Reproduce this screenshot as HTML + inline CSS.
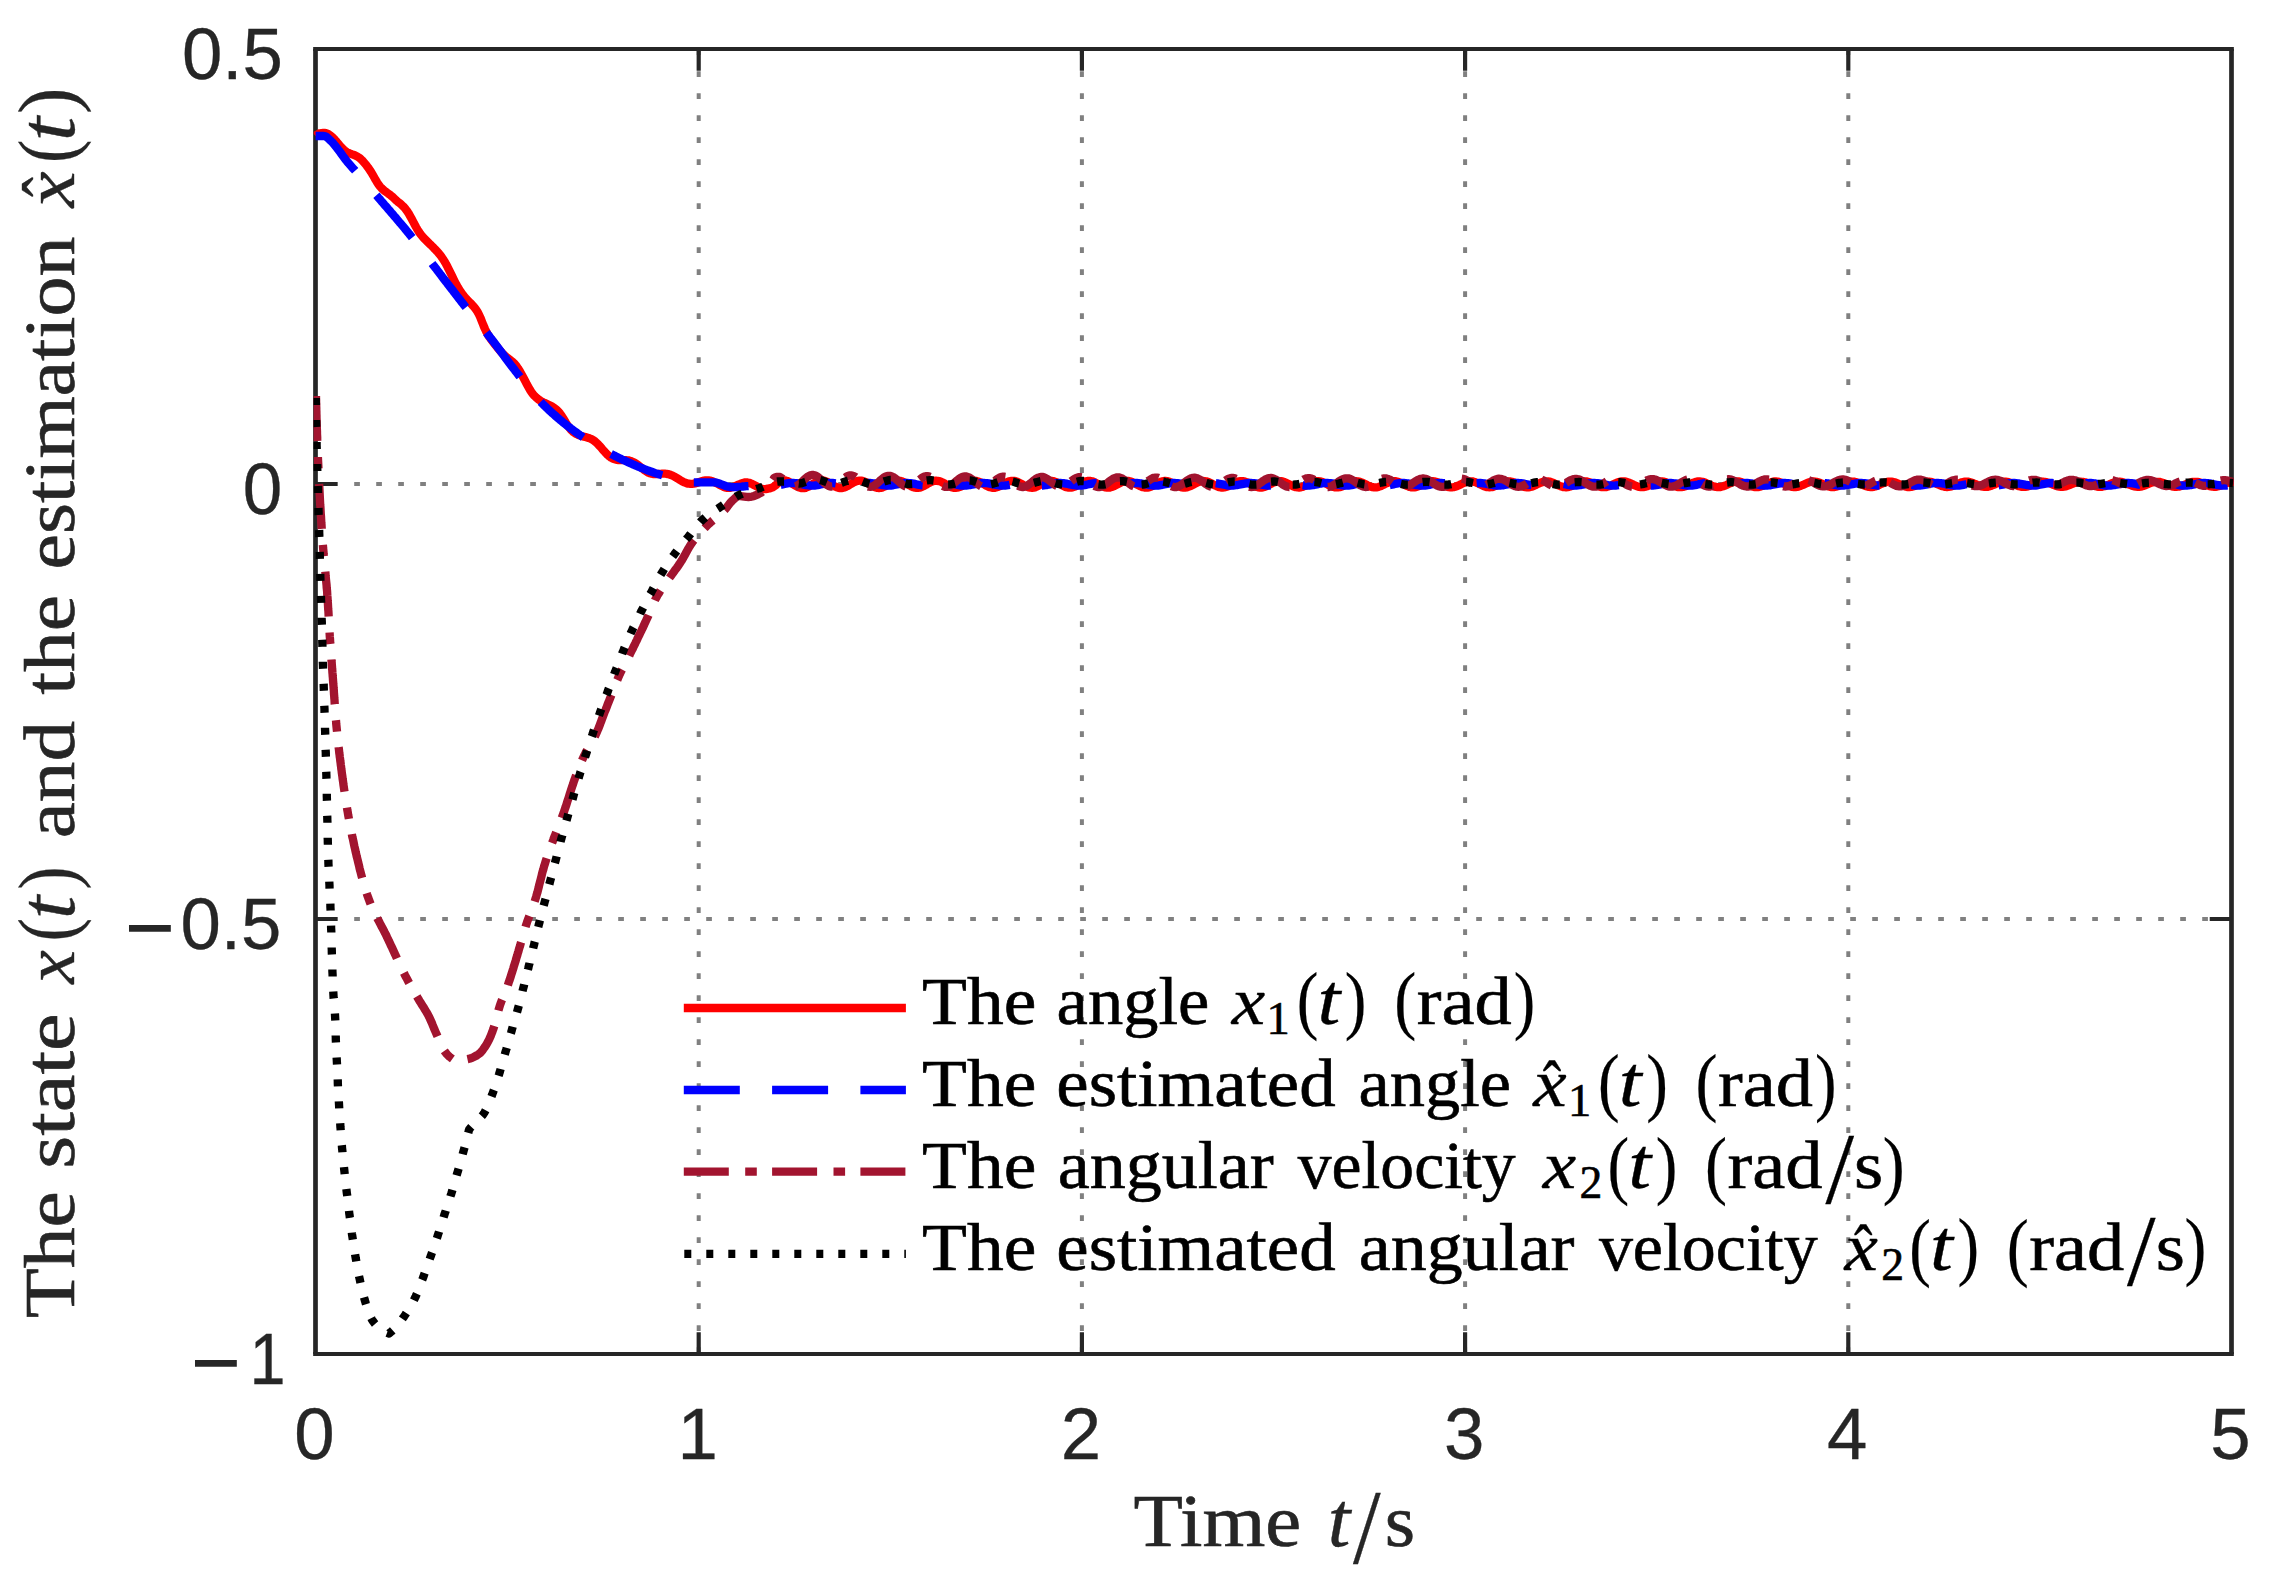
<!DOCTYPE html><html><head><meta charset="utf-8"><title>State and estimation</title><style>html,body{margin:0;padding:0;background:#fff}svg{display:block}</style></head><body>
<svg width="2269" height="1580" viewBox="0 0 2269 1580">
<rect width="2269" height="1580" fill="#fff"/>
<defs><clipPath id="c"><rect x="313.6" y="44" width="1920.2000000000003" height="1314"/></clipPath></defs>
<g stroke="#808080" stroke-width="4" fill="none" stroke-dasharray="5.7 16.3">
<path d="M698.7 49.2V1354.0"/>
<path d="M1081.9 49.2V1354.0"/>
<path d="M1465.1 49.2V1354.0"/>
<path d="M1848.3 49.2V1354.0"/>
<path d="M332.2 484H2231.5"/>
<path d="M332.2 919H2231.5"/>
</g>
<g stroke="#262626" stroke-width="4.17" fill="none">
<path stroke-width="4.0" d="M313.15 49.0H2233.85M313.15 1354.0H2233.85"/>
<path stroke-width="4.7" d="M315.5 49.0V1354.0M2231.5 49.0V1354.0"/>
<path d="M698.7 1354.0v-21.8M698.7 49.0v21.8M1081.9 1354.0v-21.8M1081.9 49.0v21.8M1465.1 1354.0v-21.8M1465.1 49.0v21.8M1848.3 1354.0v-21.8M1848.3 49.0v21.8M315.5 484h21.8M2231.5 484h-21.8M315.5 919h21.8M2231.5 919h-21.8"/>
</g>
<g clip-path="url(#c)" fill="none" stroke-width="8.33" stroke-linejoin="round">
<path stroke="#ff0000" d="M315.5 136.0L317.0 134.6L318.5 133.8L320.0 133.3L321.5 133.1L323.0 133.0L324.5 133.0L326.0 133.2L327.5 133.7L329.0 134.5L330.5 135.6L332.0 136.9L333.5 138.3L335.0 139.9L336.5 141.6L338.0 143.4L339.5 145.2L341.0 146.9L342.5 148.5L344.0 150.0L345.5 151.2L347.0 152.2L348.5 152.9L350.0 153.5L351.5 154.1L353.0 154.6L354.5 155.2L356.0 155.8L357.5 156.6L359.0 157.6L360.5 158.8L362.0 160.2L363.5 161.8L365.0 163.6L366.5 165.4L368.0 167.4L369.5 169.6L371.0 171.9L372.5 174.4L374.0 177.0L375.5 179.7L377.0 182.2L378.5 184.5L380.0 186.5L381.5 188.1L383.0 189.5L384.5 190.8L386.0 191.9L387.5 193.0L389.0 194.1L390.5 195.2L392.0 196.4L393.5 197.8L395.0 199.2L396.5 200.6L398.0 201.9L399.5 203.1L401.0 204.3L402.5 205.7L404.0 207.1L405.5 208.9L407.0 210.9L408.5 213.2L410.0 215.8L411.5 218.5L413.0 221.4L414.5 224.2L416.0 227.0L417.5 229.6L419.0 232.0L420.5 234.1L422.0 236.0L423.5 237.7L425.0 239.2L426.5 240.7L428.0 242.2L429.5 243.7L431.0 245.1L432.5 246.6L434.0 248.2L435.5 249.7L437.0 251.3L438.5 253.0L440.0 254.8L441.5 256.8L443.0 259.0L444.5 261.4L446.0 264.0L447.5 266.8L449.0 269.8L450.5 272.8L452.0 275.9L453.5 279.0L455.0 282.0L456.5 284.9L458.0 287.5L459.5 289.9L461.0 292.2L462.5 294.3L464.0 296.2L465.5 297.9L467.0 299.6L468.5 301.1L470.0 302.6L471.5 304.2L473.0 305.8L474.5 307.5L476.0 309.5L477.5 311.8L479.0 314.6L480.5 317.9L482.0 321.7L483.5 325.5L485.0 329.0L486.5 332.1L488.0 334.8L489.5 337.2L491.0 339.3L492.5 341.3L494.0 343.3L495.5 345.1L497.0 347.0L498.5 348.8L500.0 350.6L501.5 352.4L503.0 354.0L504.5 355.4L506.0 356.7L507.5 357.9L509.0 359.0L510.5 360.2L512.0 361.4L513.5 362.8L515.0 364.3L516.5 366.2L518.0 368.3L519.5 370.7L521.0 373.3L522.5 376.0L524.0 378.8L525.5 381.7L527.0 384.6L528.5 387.3L530.0 389.9L531.5 392.2L533.0 394.2L534.5 395.9L536.0 397.4L537.5 398.7L539.0 399.8L540.5 400.8L542.0 401.6L543.5 402.4L545.0 403.1L546.5 403.8L548.0 404.5L549.5 405.2L551.0 406.0L552.5 406.8L554.0 407.7L555.5 408.9L557.0 410.2L558.5 411.7L560.0 413.5L561.5 415.7L563.0 418.0L564.5 420.5L566.0 423.0L567.5 425.3L569.0 427.4L570.5 429.2L572.0 430.7L573.5 432.1L575.0 433.2L576.5 434.1L578.0 434.8L579.5 435.4L581.0 435.9L582.5 436.3L584.0 436.7L585.5 437.1L587.0 437.5L588.5 437.9L590.0 438.5L591.5 439.1L593.0 440.0L594.5 441.0L596.0 442.3L597.5 443.7L599.0 445.3L600.5 446.9L602.0 448.7L603.5 450.4L605.0 452.1L606.5 453.7L608.0 455.2L609.5 456.5L611.0 457.6L612.5 458.4L614.0 459.1L615.5 459.5L617.0 459.8L618.5 460.0L620.0 460.1L621.5 460.1L623.0 460.1L624.5 460.1L626.0 460.2L627.5 460.3L629.0 460.5L630.5 460.9L632.0 461.5L633.5 462.2L635.0 463.0L636.5 464.0L638.0 465.0L639.5 466.2L641.0 467.4L642.5 468.6L644.0 469.8L645.5 470.9L647.0 471.9L648.5 472.7L650.0 473.3L651.5 473.7L653.0 474.0L654.5 474.1L656.0 474.1L657.5 474.0L659.0 473.9L660.5 473.8L662.0 473.7L663.5 473.7L665.0 473.7L666.5 473.8L668.0 474.1L669.5 474.5L671.0 475.0L672.5 475.6L674.0 476.4L675.5 477.2L677.0 478.1L678.5 479.0L680.0 480.0L681.5 480.9L683.0 481.7L684.5 482.4L686.0 483.0L687.5 483.5L689.0 483.7L690.5 483.9L692.0 483.9L693.5 483.7L695.0 483.4L696.5 483.0L698.0 482.5L699.5 482.0L701.0 481.5L702.5 481.0L704.0 480.6L705.5 480.4L707.0 480.3L708.5 480.4L710.0 480.6L711.5 481.0L713.0 481.5L714.5 482.2L716.0 482.9L717.5 483.6L719.0 484.5L720.5 485.3L722.0 486.1L723.5 486.8L725.0 487.4L726.5 487.8L728.0 487.9L729.5 487.9L731.0 487.6L732.5 487.2L734.0 486.7L735.5 486.0L737.0 485.3L738.5 484.6L740.0 484.0L741.5 483.4L743.0 482.9L744.5 482.5L746.0 482.4L747.5 482.5L749.0 482.8L750.5 483.3L752.0 483.9L753.5 484.7L755.0 485.5L756.5 486.3L758.0 487.1L759.5 487.9L761.0 488.5L762.5 489.0L764.0 489.2L765.5 489.2L767.0 488.9L768.0 488.6L769.5 488.4L771.0 488.0L772.5 487.4L774.0 486.5L775.5 485.4L777.0 484.0L778.5 482.6L780.0 481.1L781.5 480.6L783.0 480.4L784.5 480.4L786.0 480.7L787.5 481.1L789.0 481.8L790.5 482.6L792.0 483.5L793.5 484.5L795.0 485.4L796.5 486.3L798.0 487.0L799.5 487.6L801.0 488.0L802.5 488.1L804.0 488.1L805.5 487.8L807.0 487.2L808.5 486.6L810.0 485.7L811.5 484.8L813.0 483.9L814.5 483.0L816.0 482.1L817.5 481.4L819.0 480.9L820.5 480.6L822.0 480.5L823.5 480.6L825.0 481.0L826.5 481.6L828.0 482.3L829.5 483.1L831.0 484.1L832.5 485.0L834.0 485.9L835.5 486.7L837.0 487.3L838.5 487.8L840.0 488.0L841.5 488.0L843.0 487.8L844.5 487.4L846.0 486.8L847.5 486.1L849.0 485.2L850.5 484.3L852.0 483.4L853.5 482.5L855.0 481.8L856.5 481.2L858.0 480.8L859.5 480.6L861.0 480.6L862.5 480.9L864.0 481.4L865.5 482.0L867.0 482.8L868.5 483.7L870.0 484.6L871.5 485.5L873.0 486.3L874.5 487.0L876.0 487.5L877.5 487.9L879.0 488.0L880.5 487.9L882.0 487.6L883.5 487.0L885.0 486.4L886.5 485.6L888.0 484.7L889.5 483.8L891.0 482.9L892.5 482.1L894.0 481.5L895.5 481.0L897.0 480.7L898.5 480.7L900.0 480.8L901.5 481.2L903.0 481.8L904.5 482.5L906.0 483.3L907.5 484.2L909.0 485.1L910.5 485.9L912.0 486.7L913.5 487.3L915.0 487.7L916.5 487.9L918.0 487.9L919.5 487.7L921.0 487.2L922.5 486.6L924.0 485.9L925.5 485.0L927.0 484.2L928.5 483.3L930.0 482.5L931.5 481.8L933.0 481.2L934.5 480.9L936.0 480.7L937.5 480.8L939.0 481.1L940.5 481.5L942.0 482.2L943.5 483.0L945.0 483.8L946.5 484.7L948.0 485.5L949.5 486.3L951.0 487.0L952.5 487.5L954.0 487.8L955.5 487.9L957.0 487.7L958.5 487.4L960.0 486.9L961.5 486.2L963.0 485.4L964.5 484.5L966.0 483.7L967.5 482.8L969.0 482.1L970.5 481.5L972.0 481.0L973.5 480.8L975.0 480.8L976.5 481.0L978.0 481.4L979.5 481.9L981.0 482.6L982.5 483.4L984.0 484.3L985.5 485.2L987.0 486.0L988.5 486.7L990.0 487.2L991.5 487.6L993.0 487.8L994.5 487.8L996.0 487.5L997.5 487.1L999.0 486.5L1000.5 485.7L1002.0 484.9L1003.5 484.0L1005.0 483.2L1006.5 482.4L1008.0 481.8L1009.5 481.3L1011.0 480.9L1012.5 480.8L1014.0 480.9L1015.5 481.2L1017.0 481.7L1018.5 482.3L1020.0 483.1L1021.5 483.9L1023.0 484.8L1024.5 485.6L1026.0 486.4L1027.5 487.0L1029.0 487.4L1030.5 487.7L1032.0 487.8L1033.5 487.6L1035.0 487.3L1036.5 486.7L1038.0 486.0L1039.5 485.3L1041.0 484.4L1042.5 483.6L1044.0 482.8L1045.5 482.1L1047.0 481.5L1048.5 481.1L1050.0 480.9L1051.5 480.9L1053.0 481.1L1054.5 481.5L1056.0 482.1L1057.5 482.8L1059.0 483.6L1060.5 484.4L1062.0 485.3L1063.5 486.0L1065.0 486.7L1066.5 487.2L1068.0 487.6L1069.5 487.7L1071.0 487.7L1072.5 487.4L1074.0 486.9L1075.5 486.3L1077.0 485.6L1078.5 484.8L1080.0 483.9L1081.5 483.1L1083.0 482.4L1084.5 481.8L1086.0 481.3L1087.5 481.0L1089.0 480.9L1090.5 481.0L1092.0 481.3L1093.5 481.8L1095.0 482.5L1096.5 483.2L1098.0 484.1L1099.5 484.9L1101.0 485.7L1102.5 486.4L1104.0 487.0L1105.5 487.4L1107.0 487.6L1108.5 487.7L1110.0 487.5L1111.5 487.1L1113.0 486.6L1114.5 485.9L1116.0 485.1L1117.5 484.3L1119.0 483.5L1120.5 482.7L1122.0 482.0L1123.5 481.5L1125.0 481.1L1126.5 481.0L1128.0 481.0L1129.5 481.2L1131.0 481.6L1132.5 482.2L1134.0 482.9L1135.5 483.7L1137.0 484.5L1138.5 485.3L1140.0 486.1L1141.5 486.7L1143.0 487.2L1144.5 487.5L1146.0 487.6L1147.5 487.5L1149.0 487.3L1150.5 486.8L1152.0 486.2L1153.5 485.5L1155.0 484.7L1156.5 483.8L1158.0 483.1L1159.5 482.3L1161.0 481.7L1162.5 481.3L1164.0 481.0L1165.5 481.0L1167.0 481.1L1168.5 481.5L1170.0 482.0L1171.5 482.6L1173.0 483.4L1174.5 484.2L1176.0 485.0L1177.5 485.8L1179.0 486.4L1180.5 487.0L1182.0 487.4L1183.5 487.6L1185.0 487.6L1186.5 487.4L1188.0 487.0L1189.5 486.4L1191.0 485.8L1192.5 485.0L1194.0 484.2L1195.5 483.4L1197.0 482.7L1198.5 482.0L1200.0 481.5L1201.5 481.2L1203.0 481.0L1204.5 481.1L1206.0 481.3L1207.5 481.8L1209.0 482.3L1210.5 483.0L1212.0 483.8L1213.5 484.6L1215.0 485.4L1216.5 486.1L1218.0 486.7L1219.5 487.2L1221.0 487.5L1222.5 487.6L1224.0 487.4L1225.5 487.1L1227.0 486.7L1228.5 486.1L1230.0 485.3L1231.5 484.5L1233.0 483.7L1234.5 483.0L1236.0 482.3L1237.5 481.7L1239.0 481.3L1240.5 481.1L1242.0 481.1L1243.5 481.2L1245.0 481.6L1246.5 482.1L1248.0 482.7L1249.5 483.5L1251.0 484.3L1252.5 485.1L1254.0 485.8L1255.5 486.5L1257.0 487.0L1258.5 487.3L1260.0 487.5L1261.5 487.5L1263.0 487.3L1264.5 486.9L1266.0 486.3L1267.5 485.6L1269.0 484.9L1270.5 484.1L1272.0 483.3L1273.5 482.6L1275.0 482.0L1276.5 481.5L1278.0 481.2L1279.5 481.1L1281.0 481.2L1282.5 481.4L1284.0 481.9L1285.5 482.5L1287.0 483.2L1288.5 483.9L1290.0 484.7L1291.5 485.5L1293.0 486.2L1294.5 486.7L1296.0 487.2L1297.5 487.4L1299.0 487.5L1300.5 487.3L1302.0 487.0L1303.5 486.5L1305.0 485.9L1306.5 485.2L1308.0 484.4L1309.5 483.7L1311.0 482.9L1312.5 482.3L1314.0 481.7L1315.5 481.4L1317.0 481.2L1318.5 481.2L1320.0 481.3L1321.5 481.7L1323.0 482.2L1324.5 482.9L1326.0 483.6L1327.5 484.4L1329.0 485.2L1330.5 485.9L1332.0 486.5L1333.5 487.0L1335.0 487.3L1336.5 487.4L1338.0 487.4L1339.5 487.2L1341.0 486.7L1342.5 486.2L1344.0 485.5L1345.5 484.8L1347.0 484.0L1348.5 483.2L1350.0 482.6L1351.5 482.0L1353.0 481.5L1354.5 481.3L1356.0 481.2L1357.5 481.3L1359.0 481.6L1360.5 482.0L1362.0 482.6L1363.5 483.3L1365.0 484.0L1366.5 484.8L1368.0 485.6L1369.5 486.2L1371.0 486.8L1372.5 487.2L1374.0 487.4L1375.5 487.4L1377.0 487.3L1378.5 486.9L1380.0 486.4L1381.5 485.8L1383.0 485.1L1384.5 484.3L1386.0 483.6L1387.5 482.9L1389.0 482.2L1390.5 481.7L1392.0 481.4L1393.5 481.2L1395.0 481.2L1396.5 481.4L1398.0 481.8L1399.5 482.4L1401.0 483.0L1402.5 483.7L1404.0 484.5L1405.5 485.2L1407.0 485.9L1408.5 486.5L1410.0 487.0L1411.5 487.3L1413.0 487.4L1414.5 487.3L1416.0 487.1L1417.5 486.6L1419.0 486.1L1420.5 485.4L1422.0 484.7L1423.5 483.9L1425.0 483.2L1426.5 482.5L1428.0 482.0L1429.5 481.5L1431.0 481.3L1432.5 481.2L1434.0 481.4L1435.5 481.7L1437.0 482.1L1438.5 482.7L1440.0 483.4L1441.5 484.2L1443.0 484.9L1444.5 485.6L1446.0 486.3L1447.5 486.8L1449.0 487.1L1450.5 487.3L1452.0 487.3L1453.5 487.2L1455.0 486.8L1456.5 486.3L1458.0 485.7L1459.5 485.0L1461.0 484.2L1462.5 483.5L1464.0 482.8L1465.5 482.2L1467.0 481.7L1468.5 481.4L1470.0 481.3L1471.5 481.3L1473.0 481.5L1474.5 481.9L1476.0 482.5L1477.5 483.1L1479.0 483.8L1480.5 484.6L1482.0 485.3L1483.5 486.0L1485.0 486.5L1486.5 487.0L1488.0 487.2L1489.5 487.3L1491.0 487.2L1492.5 487.0L1494.0 486.5L1495.5 485.9L1497.0 485.3L1498.5 484.6L1500.0 483.8L1501.5 483.1L1503.0 482.5L1504.5 481.9L1506.0 481.6L1507.5 481.3L1509.0 481.3L1510.5 481.5L1512.0 481.8L1513.5 482.2L1515.0 482.8L1516.5 483.5L1518.0 484.3L1519.5 485.0L1521.0 485.7L1522.5 486.3L1524.0 486.8L1525.5 487.1L1527.0 487.3L1528.5 487.3L1530.0 487.1L1531.5 486.7L1533.0 486.2L1534.5 485.6L1536.0 484.9L1537.5 484.1L1539.0 483.4L1540.5 482.7L1542.0 482.2L1543.5 481.7L1545.0 481.4L1546.5 481.3L1548.0 481.4L1549.5 481.6L1551.0 482.0L1552.5 482.6L1554.0 483.2L1555.5 483.9L1557.0 484.7L1558.5 485.4L1560.0 486.0L1561.5 486.6L1563.0 487.0L1564.5 487.2L1566.0 487.3L1567.5 487.1L1569.0 486.8L1570.5 486.4L1572.0 485.8L1573.5 485.2L1575.0 484.5L1576.5 483.7L1578.0 483.0L1579.5 482.4L1581.0 481.9L1582.5 481.6L1584.0 481.4L1585.5 481.4L1587.0 481.5L1588.5 481.9L1590.0 482.4L1591.5 483.0L1593.0 483.6L1594.5 484.4L1596.0 485.1L1597.5 485.7L1599.0 486.3L1600.5 486.8L1602.0 487.1L1603.5 487.2L1605.0 487.2L1606.5 487.0L1608.0 486.6L1609.5 486.1L1611.0 485.5L1612.5 484.8L1614.0 484.0L1615.5 483.3L1617.0 482.7L1618.5 482.1L1620.0 481.7L1621.5 481.5L1623.0 481.4L1624.5 481.5L1626.0 481.7L1627.5 482.2L1629.0 482.7L1630.5 483.3L1632.0 484.0L1633.5 484.8L1635.0 485.4L1636.5 486.1L1638.0 486.6L1639.5 486.9L1641.0 487.2L1642.5 487.2L1644.0 487.1L1645.5 486.7L1647.0 486.3L1648.5 485.7L1650.0 485.1L1651.5 484.4L1653.0 483.6L1654.5 483.0L1656.0 482.4L1657.5 481.9L1659.0 481.6L1660.5 481.4L1662.0 481.4L1663.5 481.6L1665.0 482.0L1666.5 482.5L1668.0 483.1L1669.5 483.7L1671.0 484.4L1672.5 485.1L1674.0 485.8L1675.5 486.3L1677.0 486.8L1678.5 487.1L1680.0 487.2L1681.5 487.1L1683.0 486.9L1684.5 486.5L1686.0 486.0L1687.5 485.3L1689.0 484.7L1690.5 484.0L1692.0 483.3L1693.5 482.6L1695.0 482.1L1696.5 481.7L1698.0 481.5L1699.5 481.4L1701.0 481.6L1702.5 481.8L1704.0 482.3L1705.5 482.8L1707.0 483.5L1708.5 484.1L1710.0 484.8L1711.5 485.5L1713.0 486.1L1714.5 486.6L1716.0 486.9L1717.5 487.1L1719.0 487.1L1720.5 487.0L1722.0 486.6L1723.5 486.2L1725.0 485.6L1726.5 485.0L1728.0 484.3L1729.5 483.6L1731.0 482.9L1732.5 482.4L1734.0 481.9L1735.5 481.6L1737.0 481.5L1738.5 481.5L1740.0 481.7L1741.5 482.1L1743.0 482.6L1744.5 483.2L1746.0 483.8L1747.5 484.5L1749.0 485.2L1750.5 485.8L1752.0 486.4L1753.5 486.8L1755.0 487.0L1756.5 487.1L1758.0 487.0L1759.5 486.8L1761.0 486.4L1762.5 485.9L1764.0 485.2L1765.5 484.6L1767.0 483.9L1768.5 483.2L1770.0 482.6L1771.5 482.1L1773.0 481.7L1774.5 481.5L1776.0 481.5L1777.5 481.6L1779.0 481.9L1780.5 482.4L1782.0 482.9L1783.5 483.6L1785.0 484.2L1786.5 484.9L1788.0 485.6L1789.5 486.1L1791.0 486.6L1792.5 486.9L1794.0 487.1L1795.5 487.1L1797.0 486.9L1798.5 486.6L1800.0 486.1L1801.5 485.5L1803.0 484.9L1804.5 484.2L1806.0 483.5L1807.5 482.9L1809.0 482.3L1810.5 481.9L1812.0 481.6L1813.5 481.5L1815.0 481.6L1816.5 481.8L1818.0 482.2L1819.5 482.7L1821.0 483.3L1822.5 483.9L1824.0 484.6L1825.5 485.3L1827.0 485.9L1828.5 486.4L1830.0 486.8L1831.5 487.0L1833.0 487.1L1834.5 487.0L1836.0 486.7L1837.5 486.3L1839.0 485.7L1840.5 485.1L1842.0 484.5L1843.5 483.8L1845.0 483.1L1846.5 482.6L1848.0 482.1L1849.5 481.8L1851.0 481.6L1852.5 481.6L1854.0 481.7L1855.5 482.0L1857.0 482.5L1858.5 483.0L1860.0 483.7L1861.5 484.3L1863.0 485.0L1864.5 485.6L1866.0 486.2L1867.5 486.6L1869.0 486.9L1870.5 487.0L1872.0 487.0L1873.5 486.8L1875.0 486.5L1876.5 486.0L1878.0 485.4L1879.5 484.8L1881.0 484.1L1882.5 483.4L1884.0 482.8L1885.5 482.3L1887.0 481.9L1888.5 481.7L1890.0 481.6L1891.5 481.7L1893.0 481.9L1894.5 482.3L1896.0 482.8L1897.5 483.4L1899.0 484.0L1900.5 484.7L1902.0 485.3L1903.5 485.9L1905.0 486.4L1906.5 486.8L1908.0 487.0L1909.5 487.0L1911.0 486.9L1912.5 486.6L1914.0 486.2L1915.5 485.6L1917.0 485.0L1918.5 484.4L1920.0 483.7L1921.5 483.1L1923.0 482.5L1924.5 482.1L1926.0 481.8L1927.5 481.6L1929.0 481.6L1930.5 481.8L1932.0 482.1L1933.5 482.6L1935.0 483.1L1936.5 483.8L1938.0 484.4L1939.5 485.1L1941.0 485.7L1942.5 486.2L1944.0 486.6L1945.5 486.9L1947.0 487.0L1948.5 486.9L1950.0 486.7L1951.5 486.4L1953.0 485.9L1954.5 485.3L1956.0 484.7L1957.5 484.0L1959.0 483.4L1960.5 482.8L1962.0 482.3L1963.5 481.9L1965.0 481.7L1966.5 481.6L1968.0 481.7L1969.5 482.0L1971.0 482.4L1972.5 482.9L1974.0 483.5L1975.5 484.1L1977.0 484.8L1978.5 485.4L1980.0 486.0L1981.5 486.4L1983.0 486.7L1984.5 486.9L1986.0 486.9L1987.5 486.8L1989.0 486.5L1990.5 486.1L1992.0 485.5L1993.5 484.9L1995.0 484.3L1996.5 483.6L1998.0 483.0L1999.5 482.5L2001.0 482.1L2002.5 481.8L2004.0 481.7L2005.5 481.7L2007.0 481.9L2008.5 482.2L2010.0 482.7L2011.5 483.2L2013.0 483.9L2014.5 484.5L2016.0 485.1L2017.5 485.7L2019.0 486.2L2020.5 486.6L2022.0 486.8L2023.5 486.9L2025.0 486.9L2026.5 486.6L2028.0 486.3L2029.5 485.8L2031.0 485.2L2032.5 484.6L2034.0 483.9L2035.5 483.3L2037.0 482.7L2038.5 482.3L2040.0 481.9L2041.5 481.7L2043.0 481.7L2044.5 481.8L2046.0 482.1L2047.5 482.5L2049.0 483.0L2050.5 483.6L2052.0 484.2L2053.5 484.9L2055.0 485.5L2056.5 486.0L2058.0 486.4L2059.5 486.7L2061.0 486.9L2062.5 486.9L2064.0 486.7L2065.5 486.4L2067.0 486.0L2068.5 485.4L2070.0 484.8L2071.5 484.2L2073.0 483.6L2074.5 483.0L2076.0 482.5L2077.5 482.1L2079.0 481.8L2080.5 481.7L2082.0 481.8L2083.5 482.0L2085.0 482.3L2086.5 482.8L2088.0 483.3L2089.5 483.9L2091.0 484.6L2092.5 485.2L2094.0 485.8L2095.5 486.2L2097.0 486.6L2098.5 486.8L2100.0 486.9L2101.5 486.8L2103.0 486.5L2104.5 486.2L2106.0 485.7L2107.5 485.1L2109.0 484.5L2110.5 483.8L2112.0 483.2L2113.5 482.7L2115.0 482.3L2116.5 481.9L2118.0 481.8L2119.5 481.7L2121.0 481.9L2122.5 482.2L2124.0 482.6L2125.5 483.1L2127.0 483.7L2128.5 484.3L2130.0 484.9L2131.5 485.5L2133.0 486.0L2134.5 486.4L2136.0 486.7L2137.5 486.8L2139.0 486.8L2140.5 486.6L2142.0 486.3L2143.5 485.9L2145.0 485.3L2146.5 484.7L2148.0 484.1L2149.5 483.5L2151.0 482.9L2152.5 482.4L2154.0 482.1L2155.5 481.8L2157.0 481.8L2158.5 481.8L2160.0 482.0L2161.5 482.4L2163.0 482.9L2164.5 483.4L2166.0 484.0L2167.5 484.7L2169.0 485.3L2170.5 485.8L2172.0 486.3L2173.5 486.6L2175.0 486.8L2176.5 486.8L2178.0 486.7L2179.5 486.5L2181.0 486.1L2182.5 485.6L2184.0 485.0L2185.5 484.4L2187.0 483.8L2188.5 483.2L2190.0 482.7L2191.5 482.2L2193.0 481.9L2194.5 481.8L2196.0 481.8L2197.5 482.0L2199.0 482.2L2200.5 482.7L2202.0 483.2L2203.5 483.8L2205.0 484.4L2206.5 485.0L2208.0 485.6L2209.5 486.1L2211.0 486.4L2212.5 486.7L2214.0 486.8L2215.5 486.8L2217.0 486.6L2218.5 486.2L2220.0 485.8L2221.5 485.3L2223.0 484.7L2224.5 484.0L2226.0 483.4L2227.5 482.9L2229.0 482.4L2230.5 482.1L2232.0 481.9L2233.5 481.8"/>
<path stroke="#0000ff" stroke-dasharray="55.5 32.5" d="M315.6 136.0L317.1 136.0L318.6 136.0L320.1 136.0L321.6 136.0L323.1 136.0L324.6 136.1L326.1 136.7L327.6 137.8L329.1 139.2L330.6 140.6L332.1 142.1L333.6 143.8L335.1 145.6L336.6 147.5L338.1 149.5L339.6 151.4L341.1 153.5L342.6 155.6L344.1 157.7L345.6 159.6L347.1 161.5L348.6 163.3L350.1 165.0L351.6 166.7L353.1 168.4L354.6 170.1L356.1 171.8L357.6 173.6L359.1 175.3L360.6 177.0L362.1 178.8L363.6 180.5L365.1 182.2L366.6 183.9L368.1 185.7L369.6 187.4L371.1 189.2L372.6 190.9L374.1 192.6L375.6 194.4L377.1 196.1L378.6 197.9L380.1 199.6L381.6 201.4L383.1 203.1L384.6 204.9L386.1 206.6L387.6 208.3L389.1 210.1L390.6 211.8L392.1 213.6L393.6 215.3L395.1 217.1L396.6 218.8L398.1 220.6L399.6 222.4L401.1 224.1L402.6 225.9L404.1 227.7L405.6 229.5L407.1 231.3L408.6 233.2L410.1 235.0L411.6 236.9L413.1 238.8L414.6 240.6L416.1 242.6L417.6 244.5L419.1 246.5L420.6 248.4L422.1 250.4L423.6 252.4L425.1 254.3L426.6 256.3L428.1 258.3L429.6 260.3L431.1 262.2L432.6 264.2L434.1 266.2L435.6 268.1L437.1 270.1L438.6 272.0L440.1 274.0L441.6 275.9L443.1 277.9L444.6 279.9L446.1 281.8L447.6 283.8L449.1 285.7L450.6 287.7L452.1 289.6L453.6 291.6L455.1 293.5L456.6 295.5L458.1 297.4L459.6 299.3L461.1 301.3L462.6 303.2L464.1 305.1L465.6 307.0L467.1 308.9L468.6 310.7L470.1 312.6L471.6 314.4L473.1 316.3L474.6 318.1L476.1 319.9L477.6 321.8L479.1 323.6L480.6 325.4L482.1 327.3L483.6 329.1L485.1 331.0L486.6 332.9L488.1 334.8L489.6 336.7L491.1 338.7L492.6 340.6L494.1 342.6L495.6 344.6L497.1 346.6L498.6 348.6L500.1 350.6L501.6 352.6L503.1 354.6L504.6 356.7L506.1 358.7L507.6 360.7L509.1 362.7L510.6 364.7L512.1 366.7L513.6 368.6L515.1 370.6L516.6 372.5L518.1 374.4L519.6 376.3L521.1 378.3L522.6 380.2L524.1 382.1L525.6 384.0L527.1 386.0L528.6 387.9L530.1 389.8L531.6 391.6L533.1 393.5L534.6 395.3L536.1 397.0L537.6 398.7L539.1 400.3L540.6 401.9L542.1 403.4L543.6 404.9L545.1 406.3L546.6 407.8L548.1 409.2L549.6 410.6L551.1 412.0L552.6 413.4L554.1 414.7L555.6 416.0L557.1 417.3L558.6 418.6L560.1 419.9L561.6 421.1L563.1 422.4L564.6 423.6L566.1 424.8L567.6 426.0L569.1 427.1L570.6 428.3L572.1 429.4L573.6 430.5L575.1 431.6L576.6 432.7L578.1 433.8L579.6 434.9L581.1 435.9L582.6 437.0L584.1 438.0L585.6 439.0L587.1 440.0L588.6 441.0L590.1 442.0L591.6 442.9L593.1 443.9L594.6 444.8L596.1 445.7L597.6 446.6L599.1 447.5L600.6 448.4L602.1 449.2L603.6 450.1L605.1 450.9L606.6 451.7L608.1 452.5L609.6 453.3L611.1 454.1L612.6 454.8L614.1 455.5L615.6 456.3L617.1 457.0L618.6 457.7L620.1 458.4L621.6 459.2L623.1 459.9L624.6 460.6L626.1 461.3L627.6 462.0L629.1 462.7L630.6 463.3L632.1 464.0L633.6 464.7L635.1 465.3L636.6 466.0L638.1 466.6L639.6 467.2L641.1 467.8L642.6 468.4L644.1 469.0L645.6 469.6L647.1 470.2L648.6 470.7L650.1 471.3L651.6 471.8L653.1 472.3L654.6 472.9L656.1 473.4L657.6 473.8L659.1 474.3L660.6 474.8L662.1 475.2L663.6 475.6L665.1 476.1L666.6 476.5L668.1 477.0L669.6 477.4L671.1 477.9L672.6 478.3L674.1 478.8L675.6 479.2L677.1 479.6L678.6 480.0L680.1 480.4L681.6 480.8L683.1 481.1L684.6 481.4L686.1 481.7L687.6 481.9L689.1 482.1L690.6 482.3L692.1 482.4L693.6 482.4L695.1 482.4L696.6 482.4L698.1 482.4L699.6 482.4L701.1 482.4L702.6 482.4L704.1 482.4L705.6 482.4L707.1 482.4L708.6 482.4L710.1 482.4L711.6 482.4L713.1 482.4L714.6 482.4L716.1 482.6L717.6 483.0L719.1 483.5L720.6 484.0L722.1 484.6L723.6 485.2L725.1 485.8L726.6 486.3L728.1 486.7L729.6 487.0L731.1 487.2L732.6 487.2L734.1 487.2L735.6 487.1L737.1 487.0L738.6 486.9L740.1 486.8L741.6 486.7L743.1 486.5L744.6 486.4L746.1 486.2L747.6 486.1L749.1 486.0L750.6 485.8L752.1 485.7L753.6 485.6L755.1 485.4L756.6 485.3L758.1 485.2L759.6 485.0L761.1 484.9L762.6 484.7L764.1 484.6L765.0 484.5L766.5 484.5L768.0 484.6L769.5 484.8L771.0 485.0L772.5 485.2L774.0 485.3L775.5 485.4L777.0 485.4L778.5 485.2L780.0 484.9L781.5 484.7L783.0 484.3L784.5 484.0L786.0 483.7L787.5 483.4L789.0 483.2L790.5 483.1L792.0 483.0L793.5 483.0L795.0 483.1L796.5 483.2L798.0 483.5L799.5 483.7L801.0 484.0L802.5 484.4L804.0 484.7L805.5 485.0L807.0 485.2L808.5 485.4L810.0 485.5L811.5 485.6L813.0 485.6L814.5 485.5L816.0 485.3L817.5 485.1L819.0 484.8L820.5 484.5L822.0 484.2L823.5 483.8L825.0 483.6L826.5 483.3L828.0 483.1L829.5 483.0L831.0 483.0L832.5 483.0L834.0 483.2L835.5 483.4L837.0 483.6L838.5 483.9L840.0 484.2L841.5 484.5L843.0 484.8L844.5 485.1L846.0 485.3L847.5 485.5L849.0 485.6L850.5 485.6L852.0 485.5L853.5 485.4L855.0 485.2L856.5 484.9L858.0 484.6L859.5 484.3L861.0 484.0L862.5 483.7L864.0 483.4L865.5 483.2L867.0 483.1L868.5 483.0L870.0 483.0L871.5 483.1L873.0 483.3L874.5 483.5L876.0 483.8L877.5 484.1L879.0 484.4L880.5 484.7L882.0 485.0L883.5 485.2L885.0 485.4L886.5 485.6L888.0 485.6L889.5 485.6L891.0 485.5L892.5 485.3L894.0 485.0L895.5 484.7L897.0 484.4L898.5 484.1L900.0 483.8L901.5 483.5L903.0 483.3L904.5 483.1L906.0 483.0L907.5 483.0L909.0 483.1L910.5 483.2L912.0 483.4L913.5 483.6L915.0 483.9L916.5 484.3L918.0 484.6L919.5 484.9L921.0 485.1L922.5 485.4L924.0 485.5L925.5 485.6L927.0 485.6L928.5 485.5L930.0 485.4L931.5 485.1L933.0 484.9L934.5 484.6L936.0 484.2L937.5 483.9L939.0 483.6L940.5 483.4L942.0 483.2L943.5 483.1L945.0 483.0L946.5 483.0L948.0 483.1L949.5 483.3L951.0 483.5L952.5 483.8L954.0 484.1L955.5 484.4L957.0 484.8L958.5 485.0L960.0 485.3L961.5 485.5L963.0 485.6L964.5 485.6L966.0 485.6L967.5 485.4L969.0 485.2L970.5 485.0L972.0 484.7L973.5 484.4L975.0 484.1L976.5 483.8L978.0 483.5L979.5 483.3L981.0 483.1L982.5 483.0L984.0 483.0L985.5 483.1L987.0 483.2L988.5 483.4L990.0 483.7L991.5 484.0L993.0 484.3L994.5 484.6L996.0 484.9L997.5 485.2L999.0 485.4L1000.5 485.5L1002.0 485.6L1003.5 485.6L1005.0 485.5L1006.5 485.3L1008.0 485.1L1009.5 484.8L1011.0 484.5L1012.5 484.2L1014.0 483.9L1015.5 483.6L1017.0 483.4L1018.5 483.2L1020.0 483.0L1021.5 483.0L1023.0 483.0L1024.5 483.1L1026.0 483.3L1027.5 483.6L1029.0 483.9L1030.5 484.2L1032.0 484.5L1033.5 484.8L1035.0 485.1L1036.5 485.3L1038.0 485.5L1039.5 485.6L1041.0 485.6L1042.5 485.5L1044.0 485.4L1045.5 485.2L1047.0 485.0L1048.5 484.7L1050.0 484.3L1051.5 484.0L1053.0 483.7L1054.5 483.5L1056.0 483.2L1057.5 483.1L1059.0 483.0L1060.5 483.0L1062.0 483.1L1063.5 483.2L1065.0 483.5L1066.5 483.7L1068.0 484.0L1069.5 484.3L1071.0 484.7L1072.5 485.0L1074.0 485.2L1075.5 485.4L1077.0 485.5L1078.5 485.6L1080.0 485.6L1081.5 485.5L1083.0 485.3L1084.5 485.1L1086.0 484.8L1087.5 484.5L1089.0 484.2L1090.5 483.9L1092.0 483.6L1093.5 483.3L1095.0 483.1L1096.5 483.0L1098.0 483.0L1099.5 483.0L1101.0 483.2L1102.5 483.4L1104.0 483.6L1105.5 483.9L1107.0 484.2L1108.5 484.5L1110.0 484.8L1111.5 485.1L1113.0 485.3L1114.5 485.5L1116.0 485.6L1117.5 485.6L1119.0 485.5L1120.5 485.4L1122.0 485.2L1123.5 484.9L1125.0 484.6L1126.5 484.3L1128.0 484.0L1129.5 483.7L1131.0 483.4L1132.5 483.2L1134.0 483.1L1135.5 483.0L1137.0 483.0L1138.5 483.1L1140.0 483.3L1141.5 483.5L1143.0 483.8L1144.5 484.1L1146.0 484.4L1147.5 484.7L1149.0 485.0L1150.5 485.2L1152.0 485.4L1153.5 485.6L1155.0 485.6L1156.5 485.6L1158.0 485.5L1159.5 485.3L1161.0 485.0L1162.5 484.8L1164.0 484.4L1165.5 484.1L1167.0 483.8L1168.5 483.5L1170.0 483.3L1171.5 483.1L1173.0 483.0L1174.5 483.0L1176.0 483.1L1177.5 483.2L1179.0 483.4L1180.5 483.6L1182.0 483.9L1183.5 484.2L1185.0 484.6L1186.5 484.9L1188.0 485.1L1189.5 485.4L1191.0 485.5L1192.5 485.6L1194.0 485.6L1195.5 485.5L1197.0 485.4L1198.5 485.1L1200.0 484.9L1201.5 484.6L1203.0 484.3L1204.5 483.9L1206.0 483.6L1207.5 483.4L1209.0 483.2L1210.5 483.1L1212.0 483.0L1213.5 483.0L1215.0 483.1L1216.5 483.3L1218.0 483.5L1219.5 483.8L1221.0 484.1L1222.5 484.4L1224.0 484.7L1225.5 485.0L1227.0 485.3L1228.5 485.5L1230.0 485.6L1231.5 485.6L1233.0 485.6L1234.5 485.4L1236.0 485.2L1237.5 485.0L1239.0 484.7L1240.5 484.4L1242.0 484.1L1243.5 483.8L1245.0 483.5L1246.5 483.3L1248.0 483.1L1249.5 483.0L1251.0 483.0L1252.5 483.1L1254.0 483.2L1255.5 483.4L1257.0 483.7L1258.5 484.0L1260.0 484.3L1261.5 484.6L1263.0 484.9L1264.5 485.2L1266.0 485.4L1267.5 485.5L1269.0 485.6L1270.5 485.6L1272.0 485.5L1273.5 485.3L1275.0 485.1L1276.5 484.8L1278.0 484.5L1279.5 484.2L1281.0 483.9L1282.5 483.6L1284.0 483.4L1285.5 483.2L1287.0 483.0L1288.5 483.0L1290.0 483.0L1291.5 483.1L1293.0 483.3L1294.5 483.6L1296.0 483.8L1297.5 484.2L1299.0 484.5L1300.5 484.8L1302.0 485.1L1303.5 485.3L1305.0 485.5L1306.5 485.6L1308.0 485.6L1309.5 485.5L1311.0 485.4L1312.5 485.2L1314.0 485.0L1315.5 484.7L1317.0 484.4L1318.5 484.0L1320.0 483.7L1321.5 483.5L1323.0 483.2L1324.5 483.1L1326.0 483.0L1327.5 483.0L1329.0 483.1L1330.5 483.2L1332.0 483.4L1333.5 483.7L1335.0 484.0L1336.5 484.3L1338.0 484.7L1339.5 484.9L1341.0 485.2L1342.5 485.4L1344.0 485.5L1345.5 485.6L1347.0 485.6L1348.5 485.5L1350.0 485.3L1351.5 485.1L1353.0 484.8L1354.5 484.5L1356.0 484.2L1357.5 483.9L1359.0 483.6L1360.5 483.3L1362.0 483.2L1363.5 483.0L1365.0 483.0L1366.5 483.0L1368.0 483.2L1369.5 483.3L1371.0 483.6L1372.5 483.9L1374.0 484.2L1375.5 484.5L1377.0 484.8L1378.5 485.1L1380.0 485.3L1381.5 485.5L1383.0 485.6L1384.5 485.6L1386.0 485.5L1387.5 485.4L1389.0 485.2L1390.5 484.9L1392.0 484.6L1393.5 484.3L1395.0 484.0L1396.5 483.7L1398.0 483.4L1399.5 483.2L1401.0 483.1L1402.5 483.0L1404.0 483.0L1405.5 483.1L1407.0 483.3L1408.5 483.5L1410.0 483.8L1411.5 484.1L1413.0 484.4L1414.5 484.7L1416.0 485.0L1417.5 485.2L1419.0 485.4L1420.5 485.6L1422.0 485.6L1423.5 485.6L1425.0 485.5L1426.5 485.3L1428.0 485.0L1429.5 484.8L1431.0 484.5L1432.5 484.1L1434.0 483.8L1435.5 483.5L1437.0 483.3L1438.5 483.1L1440.0 483.0L1441.5 483.0L1443.0 483.1L1444.5 483.2L1446.0 483.4L1447.5 483.6L1449.0 483.9L1450.5 484.2L1452.0 484.6L1453.5 484.9L1455.0 485.1L1456.5 485.4L1458.0 485.5L1459.5 485.6L1461.0 485.6L1462.5 485.5L1464.0 485.4L1465.5 485.2L1467.0 484.9L1468.5 484.6L1470.0 484.3L1471.5 484.0L1473.0 483.7L1474.5 483.4L1476.0 483.2L1477.5 483.1L1479.0 483.0L1480.5 483.0L1482.0 483.1L1483.5 483.3L1485.0 483.5L1486.5 483.8L1488.0 484.1L1489.5 484.4L1491.0 484.7L1492.5 485.0L1494.0 485.3L1495.5 485.4L1497.0 485.6L1498.5 485.6L1500.0 485.6L1501.5 485.4L1503.0 485.3L1504.5 485.0L1506.0 484.7L1507.5 484.4L1509.0 484.1L1510.5 483.8L1512.0 483.5L1513.5 483.3L1515.0 483.1L1516.5 483.0L1518.0 483.0L1519.5 483.1L1521.0 483.2L1522.5 483.4L1524.0 483.7L1525.5 484.0L1527.0 484.3L1528.5 484.6L1530.0 484.9L1531.5 485.2L1533.0 485.4L1534.5 485.5L1536.0 485.6L1537.5 485.6L1539.0 485.5L1540.5 485.3L1542.0 485.1L1543.5 484.9L1545.0 484.5L1546.5 484.2L1548.0 483.9L1549.5 483.6L1551.0 483.4L1552.5 483.2L1554.0 483.1L1555.5 483.0L1557.0 483.0L1558.5 483.1L1560.0 483.3L1561.5 483.5L1563.0 483.8L1564.5 484.1L1566.0 484.5L1567.5 484.8L1569.0 485.1L1570.5 485.3L1572.0 485.5L1573.5 485.6L1575.0 485.6L1576.5 485.5L1578.0 485.4L1579.5 485.2L1581.0 485.0L1582.5 484.7L1584.0 484.4L1585.5 484.0L1587.0 483.7L1588.5 483.5L1590.0 483.3L1591.5 483.1L1593.0 483.0L1594.5 483.0L1596.0 483.1L1597.5 483.2L1599.0 483.4L1600.5 483.7L1602.0 484.0L1603.5 484.3L1605.0 484.6L1606.5 484.9L1608.0 485.2L1609.5 485.4L1611.0 485.5L1612.5 485.6L1614.0 485.6L1615.5 485.5L1617.0 485.3L1618.5 485.1L1620.0 484.8L1621.5 484.5L1623.0 484.2L1624.5 483.9L1626.0 483.6L1627.5 483.3L1629.0 483.2L1630.5 483.0L1632.0 483.0L1633.5 483.0L1635.0 483.2L1636.5 483.3L1638.0 483.6L1639.5 483.9L1641.0 484.2L1642.5 484.5L1644.0 484.8L1645.5 485.1L1647.0 485.3L1648.5 485.5L1650.0 485.6L1651.5 485.6L1653.0 485.5L1654.5 485.4L1656.0 485.2L1657.5 484.9L1659.0 484.6L1660.5 484.3L1662.0 484.0L1663.5 483.7L1665.0 483.4L1666.5 483.2L1668.0 483.1L1669.5 483.0L1671.0 483.0L1672.5 483.1L1674.0 483.3L1675.5 483.5L1677.0 483.7L1678.5 484.0L1680.0 484.4L1681.5 484.7L1683.0 485.0L1684.5 485.2L1686.0 485.4L1687.5 485.5L1689.0 485.6L1690.5 485.6L1692.0 485.5L1693.5 485.3L1695.0 485.1L1696.5 484.8L1698.0 484.5L1699.5 484.1L1701.0 483.8L1702.5 483.5L1704.0 483.3L1705.5 483.1L1707.0 483.0L1708.5 483.0L1710.0 483.1L1711.5 483.2L1713.0 483.4L1714.5 483.6L1716.0 483.9L1717.5 484.2L1719.0 484.5L1720.5 484.9L1722.0 485.1L1723.5 485.3L1725.0 485.5L1726.5 485.6L1728.0 485.6L1729.5 485.5L1731.0 485.4L1732.5 485.2L1734.0 484.9L1735.5 484.6L1737.0 484.3L1738.5 484.0L1740.0 483.7L1741.5 483.4L1743.0 483.2L1744.5 483.1L1746.0 483.0L1747.5 483.0L1749.0 483.1L1750.5 483.3L1752.0 483.5L1753.5 483.8L1755.0 484.1L1756.5 484.4L1758.0 484.7L1759.5 485.0L1761.0 485.3L1762.5 485.4L1764.0 485.6L1765.5 485.6L1767.0 485.6L1768.5 485.4L1770.0 485.3L1771.5 485.0L1773.0 484.7L1774.5 484.4L1776.0 484.1L1777.5 483.8L1779.0 483.5L1780.5 483.3L1782.0 483.1L1783.5 483.0L1785.0 483.0L1786.5 483.1L1788.0 483.2L1789.5 483.4L1791.0 483.7L1792.5 484.0L1794.0 484.3L1795.5 484.6L1797.0 484.9L1798.5 485.2L1800.0 485.4L1801.5 485.5L1803.0 485.6L1804.5 485.6L1806.0 485.5L1807.5 485.4L1809.0 485.1L1810.5 484.9L1812.0 484.6L1813.5 484.2L1815.0 483.9L1816.5 483.6L1818.0 483.4L1819.5 483.2L1821.0 483.1L1822.5 483.0L1824.0 483.0L1825.5 483.1L1827.0 483.3L1828.5 483.5L1830.0 483.8L1831.5 484.1L1833.0 484.5L1834.5 484.8L1836.0 485.0L1837.5 485.3L1839.0 485.5L1840.5 485.6L1842.0 485.6L1843.5 485.6L1845.0 485.4L1846.5 485.2L1848.0 485.0L1849.5 484.7L1851.0 484.4L1852.5 484.1L1854.0 483.8L1855.5 483.5L1857.0 483.3L1858.5 483.1L1860.0 483.0L1861.5 483.0L1863.0 483.1L1864.5 483.2L1866.0 483.4L1867.5 483.7L1869.0 484.0L1870.5 484.3L1872.0 484.6L1873.5 484.9L1875.0 485.2L1876.5 485.4L1878.0 485.5L1879.5 485.6L1881.0 485.6L1882.5 485.5L1884.0 485.3L1885.5 485.1L1887.0 484.8L1888.5 484.5L1890.0 484.2L1891.5 483.9L1893.0 483.6L1894.5 483.3L1896.0 483.2L1897.5 483.0L1899.0 483.0L1900.5 483.0L1902.0 483.2L1903.5 483.3L1905.0 483.6L1906.5 483.9L1908.0 484.2L1909.5 484.5L1911.0 484.8L1912.5 485.1L1914.0 485.3L1915.5 485.5L1917.0 485.6L1918.5 485.6L1920.0 485.5L1921.5 485.4L1923.0 485.2L1924.5 484.9L1926.0 484.7L1927.5 484.3L1929.0 484.0L1930.5 483.7L1932.0 483.4L1933.5 483.2L1935.0 483.1L1936.5 483.0L1938.0 483.0L1939.5 483.1L1941.0 483.2L1942.5 483.5L1944.0 483.7L1945.5 484.0L1947.0 484.4L1948.5 484.7L1950.0 485.0L1951.5 485.2L1953.0 485.4L1954.5 485.5L1956.0 485.6L1957.5 485.6L1959.0 485.5L1960.5 485.3L1962.0 485.1L1963.5 484.8L1965.0 484.5L1966.5 484.2L1968.0 483.8L1969.5 483.6L1971.0 483.3L1972.5 483.1L1974.0 483.0L1975.5 483.0L1977.0 483.0L1978.5 483.2L1980.0 483.4L1981.5 483.6L1983.0 483.9L1984.5 484.2L1986.0 484.5L1987.5 484.8L1989.0 485.1L1990.5 485.3L1992.0 485.5L1993.5 485.6L1995.0 485.6L1996.5 485.5L1998.0 485.4L1999.5 485.2L2001.0 484.9L2002.5 484.6L2004.0 484.3L2005.5 484.0L2007.0 483.7L2008.5 483.4L2010.0 483.2L2011.5 483.1L2013.0 483.0L2014.5 483.0L2016.0 483.1L2017.5 483.3L2019.0 483.5L2020.5 483.8L2022.0 484.1L2023.5 484.4L2025.0 484.7L2026.5 485.0L2028.0 485.2L2029.5 485.4L2031.0 485.6L2032.5 485.6L2034.0 485.6L2035.5 485.5L2037.0 485.3L2038.5 485.0L2040.0 484.7L2041.5 484.4L2043.0 484.1L2044.5 483.8L2046.0 483.5L2047.5 483.3L2049.0 483.1L2050.5 483.0L2052.0 483.0L2053.5 483.1L2055.0 483.2L2056.5 483.4L2058.0 483.6L2059.5 483.9L2061.0 484.3L2062.5 484.6L2064.0 484.9L2065.5 485.1L2067.0 485.4L2068.5 485.5L2070.0 485.6L2071.5 485.6L2073.0 485.5L2074.5 485.4L2076.0 485.1L2077.5 484.9L2079.0 484.6L2080.5 484.2L2082.0 483.9L2083.5 483.6L2085.0 483.4L2086.5 483.2L2088.0 483.1L2089.5 483.0L2091.0 483.0L2092.5 483.1L2094.0 483.3L2095.5 483.5L2097.0 483.8L2098.5 484.1L2100.0 484.4L2101.5 484.8L2103.0 485.0L2104.5 485.3L2106.0 485.5L2107.5 485.6L2109.0 485.6L2110.5 485.6L2112.0 485.4L2113.5 485.2L2115.0 485.0L2116.5 484.7L2118.0 484.4L2119.5 484.1L2121.0 483.8L2122.5 483.5L2124.0 483.3L2125.5 483.1L2127.0 483.0L2128.5 483.0L2130.0 483.1L2131.5 483.2L2133.0 483.4L2134.5 483.7L2136.0 484.0L2137.5 484.3L2139.0 484.6L2140.5 484.9L2142.0 485.2L2143.5 485.4L2145.0 485.5L2146.5 485.6L2148.0 485.6L2149.5 485.5L2151.0 485.3L2152.5 485.1L2154.0 484.8L2155.5 484.5L2157.0 484.2L2158.5 483.9L2160.0 483.6L2161.5 483.4L2163.0 483.2L2164.5 483.0L2166.0 483.0L2167.5 483.0L2169.0 483.1L2170.5 483.3L2172.0 483.6L2173.5 483.9L2175.0 484.2L2176.5 484.5L2178.0 484.8L2179.5 485.1L2181.0 485.3L2182.5 485.5L2184.0 485.6L2185.5 485.6L2187.0 485.5L2188.5 485.4L2190.0 485.2L2191.5 485.0L2193.0 484.7L2194.5 484.3L2196.0 484.0L2197.5 483.7L2199.0 483.5L2200.5 483.2L2202.0 483.1L2203.5 483.0L2205.0 483.0L2206.5 483.1L2208.0 483.2L2209.5 483.5L2211.0 483.7L2212.5 484.0L2214.0 484.3L2215.5 484.7L2217.0 485.0L2218.5 485.2L2220.0 485.4L2221.5 485.5L2223.0 485.6L2224.5 485.6L2226.0 485.5L2227.5 485.3L2229.0 485.1L2230.5 484.8L2232.0 484.5L2233.5 484.2"/>
<path stroke="#a2142f" stroke-dasharray="45 16 11.5 15.5" d="M316.0 396.0L316.0 398.0L316.1 400.0L316.1 401.9L316.2 403.9L316.2 405.9L316.3 407.9L316.3 409.8L316.4 411.8L316.4 413.8L316.5 415.8L316.5 417.7L316.6 419.7L316.7 421.7L316.7 423.7L316.8 425.7L316.8 427.6L316.9 429.6L317.0 431.6L317.0 433.6L317.1 435.5L317.2 437.5L317.2 439.5L317.3 441.5L317.4 443.4L317.4 445.4L317.5 447.4L317.6 449.4L317.7 451.3L317.8 453.3L317.9 455.3L317.9 457.3L318.0 459.2L318.1 461.2L318.2 463.2L318.3 465.2L318.4 467.1L318.5 469.1L318.6 471.1L318.7 473.1L318.7 475.0L318.8 477.0L318.9 479.0L319.0 481.0L319.1 482.9L319.2 484.9L319.3 486.9L319.4 488.9L319.5 490.8L319.6 492.8L319.7 494.8L319.8 496.8L319.9 498.7L320.0 500.7L320.1 502.7L320.2 504.7L320.4 506.6L320.5 508.6L320.6 510.6L320.7 512.6L320.8 514.5L321.0 516.5L321.1 518.5L321.2 520.5L321.3 522.4L321.5 524.4L321.6 526.4L321.7 528.4L321.9 530.3L322.0 532.3L322.1 534.3L322.3 536.2L322.4 538.2L322.6 540.2L322.7 542.2L322.8 544.1L323.0 546.1L323.1 548.1L323.3 550.0L323.5 552.0L323.6 554.0L323.8 556.0L324.0 557.9L324.1 559.9L324.3 561.9L324.5 563.8L324.7 565.8L324.9 567.8L325.1 569.7L325.3 571.7L325.5 573.7L325.6 575.7L325.8 577.6L326.0 579.6L326.2 581.6L326.4 583.5L326.6 585.5L326.7 587.5L326.9 589.4L327.1 591.4L327.2 593.4L327.3 595.3L327.5 597.3L327.6 599.3L327.7 601.3L327.9 603.2L328.0 605.2L328.1 607.2L328.2 609.2L328.4 611.1L328.5 613.1L328.6 615.1L328.7 617.1L328.8 619.0L328.9 621.0L329.0 623.0L329.1 625.0L329.2 626.9L329.4 628.9L329.5 630.9L329.6 632.9L329.7 634.8L329.8 636.8L330.0 638.8L330.1 640.7L330.2 642.7L330.4 644.7L330.5 646.7L330.7 648.6L330.8 650.6L330.9 652.6L331.1 654.6L331.2 656.5L331.4 658.5L331.5 660.5L331.7 662.4L331.8 664.4L332.0 666.4L332.1 668.4L332.3 670.3L332.4 672.3L332.6 674.3L332.7 676.2L332.9 678.2L333.0 680.2L333.2 682.2L333.3 684.1L333.5 686.1L333.6 688.1L333.8 690.0L333.9 692.0L334.0 694.0L334.2 696.0L334.3 697.9L334.5 699.9L334.6 701.9L334.7 703.9L334.9 705.8L335.0 707.8L335.2 709.8L335.3 711.7L335.4 713.7L335.6 715.7L335.7 717.7L335.9 719.6L336.1 721.6L336.2 723.6L336.4 725.5L336.6 727.5L336.8 729.5L337.0 731.4L337.2 733.4L337.4 735.4L337.6 737.3L337.8 739.3L338.0 741.3L338.2 743.2L338.4 745.2L338.6 747.2L338.9 749.1L339.1 751.1L339.3 753.1L339.6 755.0L339.8 757.0L340.1 759.0L340.3 760.9L340.6 762.9L340.8 764.8L341.1 766.8L341.3 768.8L341.6 770.7L341.8 772.7L342.1 774.6L342.4 776.6L342.6 778.6L342.9 780.5L343.2 782.5L343.4 784.4L343.7 786.4L344.0 788.4L344.3 790.3L344.6 792.3L344.9 794.2L345.2 796.2L345.5 798.1L345.8 800.1L346.1 802.1L346.4 804.0L346.7 806.0L347.0 807.9L347.3 809.9L347.7 811.8L348.0 813.8L348.3 815.7L348.7 817.6L349.0 819.6L349.4 821.5L349.8 823.5L350.1 825.4L350.5 827.4L350.9 829.3L351.3 831.3L351.7 833.2L352.0 835.1L352.4 837.1L352.9 839.0L353.3 840.9L353.7 842.9L354.1 844.8L354.5 846.7L355.0 848.7L355.4 850.6L355.8 852.5L356.3 854.5L356.7 856.4L357.2 858.3L357.7 860.2L358.1 862.1L358.6 864.1L359.1 866.0L359.5 867.9L360.0 869.9L360.5 871.8L361.0 873.7L361.5 875.6L362.0 877.5L362.6 879.5L363.1 881.4L363.6 883.3L364.2 885.2L364.8 887.1L365.3 889.0L365.9 890.8L366.5 892.7L367.1 894.6L367.8 896.5L368.4 898.3L369.1 900.1L369.8 902.0L370.5 903.8L371.2 905.6L372.0 907.4L372.8 909.2L373.7 911.0L374.5 912.8L375.4 914.5L376.3 916.3L377.2 918.1L378.1 919.8L379.1 921.6L380.0 923.4L380.9 925.1L381.8 926.9L382.8 928.6L383.7 930.4L384.6 932.2L385.5 933.9L386.4 935.7L387.2 937.5L388.1 939.3L388.9 941.1L389.8 942.9L390.6 944.7L391.4 946.4L392.3 948.2L393.1 950.0L393.9 951.8L394.7 953.6L395.6 955.4L396.4 957.2L397.2 959.0L398.1 960.8L398.9 962.6L399.7 964.4L400.6 966.2L401.4 968.0L402.3 969.8L403.2 971.5L404.1 973.3L404.9 975.1L405.8 976.8L406.8 978.6L407.7 980.3L408.6 982.0L409.6 983.8L410.6 985.5L411.5 987.2L412.5 988.9L413.5 990.7L414.5 992.4L415.5 994.1L416.5 995.8L417.5 997.5L418.5 999.2L419.5 1000.9L420.6 1002.6L421.6 1004.2L422.7 1005.9L423.8 1007.6L424.8 1009.3L425.8 1011.0L426.8 1012.7L427.8 1014.4L428.7 1016.1L429.6 1017.9L430.4 1019.7L431.2 1021.5L432.0 1023.3L432.7 1025.1L433.5 1027.0L434.2 1028.8L435.0 1030.6L435.8 1032.5L436.6 1034.3L437.4 1036.1L438.2 1037.9L439.1 1039.7L439.9 1041.6L440.7 1043.5L441.6 1045.4L442.4 1047.3L443.4 1049.0L444.3 1050.7L445.4 1052.3L446.5 1053.8L447.8 1055.1L449.2 1056.5L450.9 1057.8L452.6 1059.0L454.5 1060.0L456.3 1060.5L458.2 1060.5L460.1 1060.3L462.1 1060.1L464.2 1059.8L466.1 1059.5L468.0 1059.1L470.0 1058.5L471.9 1057.8L473.8 1057.0L475.6 1056.1L477.2 1055.1L478.7 1054.1L480.2 1052.9L481.5 1051.4L482.8 1049.9L484.0 1048.2L485.2 1046.5L486.3 1044.8L487.3 1043.0L488.2 1041.3L489.1 1039.6L489.9 1037.8L490.7 1036.0L491.4 1034.1L492.2 1032.2L492.8 1030.4L493.5 1028.5L494.1 1026.6L494.7 1024.7L495.2 1022.8L495.7 1020.9L496.2 1019.0L496.7 1017.1L497.2 1015.1L497.7 1013.2L498.2 1011.3L498.7 1009.4L499.3 1007.5L499.9 1005.6L500.5 1003.8L501.2 1001.9L501.9 1000.1L502.7 998.2L503.4 996.4L504.2 994.6L504.9 992.7L505.7 990.9L506.4 989.1L507.1 987.2L507.8 985.4L508.4 983.5L509.0 981.6L509.7 979.7L510.3 977.9L510.9 976.0L511.5 974.1L512.1 972.2L512.7 970.3L513.3 968.4L513.8 966.6L514.4 964.7L515.0 962.8L515.6 960.9L516.1 959.0L516.7 957.1L517.3 955.2L517.8 953.3L518.4 951.4L518.9 949.5L519.5 947.6L520.1 945.7L520.6 943.8L521.2 941.9L521.8 940.0L522.3 938.1L522.9 936.2L523.4 934.3L524.0 932.4L524.5 930.5L525.1 928.6L525.6 926.7L526.2 924.8L526.8 923.0L527.4 921.1L528.1 919.2L528.8 917.4L529.5 915.5L530.2 913.7L530.9 911.8L531.6 910.0L532.3 908.1L533.0 906.3L533.7 904.4L534.3 902.5L534.9 900.7L535.5 898.8L536.1 896.9L536.6 895.0L537.2 893.1L537.7 891.2L538.2 889.3L538.7 887.3L539.1 885.4L539.6 883.5L540.1 881.6L540.6 879.7L541.1 877.7L541.6 875.8L542.0 873.9L542.5 872.0L543.1 870.1L543.6 868.2L544.1 866.3L544.7 864.4L545.3 862.5L545.9 860.6L546.5 858.7L547.1 856.8L547.8 855.0L548.4 853.1L549.1 851.2L549.7 849.4L550.4 847.5L551.1 845.7L551.8 843.8L552.5 842.0L553.2 840.1L553.8 838.2L554.5 836.4L555.3 834.6L556.0 832.7L556.7 830.9L557.4 829.0L558.1 827.2L558.9 825.3L559.6 823.5L560.3 821.7L561.0 819.8L561.7 818.0L562.4 816.1L563.1 814.3L563.8 812.4L564.4 810.5L565.0 808.7L565.7 806.8L566.3 804.9L566.9 803.0L567.5 801.1L568.1 799.3L568.7 797.4L569.3 795.5L569.9 793.6L570.5 791.7L571.1 789.8L571.7 787.9L572.3 786.1L573.0 784.2L573.6 782.3L574.2 780.5L574.9 778.6L575.6 776.7L576.3 774.9L576.9 773.0L577.6 771.2L578.3 769.3L579.1 767.5L579.8 765.6L580.5 763.8L581.3 762.0L582.1 760.2L582.9 758.4L583.7 756.6L584.6 754.8L585.5 753.0L586.4 751.3L587.4 749.6L588.4 747.9L589.4 746.2L590.4 744.4L591.4 742.7L592.4 741.0L593.4 739.3L594.3 737.5L595.2 735.8L596.0 734.0L596.8 732.2L597.6 730.4L598.4 728.6L599.1 726.7L599.8 724.9L600.5 723.1L601.2 721.2L601.9 719.3L602.6 717.5L603.3 715.6L604.0 713.8L604.7 711.9L605.5 710.1L606.2 708.2L606.9 706.4L607.6 704.6L608.3 702.7L609.1 700.9L609.8 699.0L610.5 697.2L611.2 695.4L612.0 693.5L612.7 691.7L613.4 689.8L614.1 688.0L614.8 686.1L615.5 684.3L616.3 682.4L617.0 680.6L617.8 678.8L618.5 677.0L619.3 675.2L620.2 673.4L621.0 671.6L621.9 669.8L622.8 668.1L623.7 666.3L624.6 664.6L625.6 662.8L626.5 661.1L627.4 659.3L628.3 657.5L629.2 655.8L630.0 654.0L630.9 652.2L631.8 650.4L632.7 648.7L633.5 646.9L634.4 645.1L635.3 643.3L636.1 641.6L637.0 639.8L637.8 638.0L638.7 636.2L639.6 634.4L640.4 632.6L641.3 630.9L642.1 629.1L643.0 627.3L643.8 625.5L644.6 623.7L645.5 621.9L646.3 620.1L647.1 618.3L648.0 616.5L648.8 614.7L649.5 612.9L650.3 611.1L651.1 609.2L651.8 607.4L652.6 605.6L653.4 603.7L654.2 601.9L655.0 600.1L655.9 598.4L656.8 596.7L657.7 594.9L658.8 593.3L659.8 591.6L660.9 589.9L662.0 588.3L663.2 586.7L664.3 585.1L665.5 583.4L666.6 581.8L667.8 580.2L668.9 578.6L670.0 577.0L671.2 575.4L672.4 573.8L673.6 572.2L674.7 570.6L675.9 569.0L677.1 567.4L678.2 565.8L679.3 564.2L680.4 562.5L681.5 560.8L682.5 559.1L683.5 557.4L684.4 555.7L685.4 553.9L686.3 552.2L687.3 550.4L688.3 548.7L689.3 547.0L690.3 545.3L691.4 543.7L692.5 542.1L693.7 540.5L694.9 539.0L696.1 537.4L697.4 535.9L698.7 534.4L700.0 532.9L701.4 531.5L702.7 530.0L704.1 528.6L705.5 527.2L706.9 525.8L708.3 524.4L709.8 523.1L711.2 521.8L712.7 520.5L714.3 519.2L715.8 517.9L717.3 516.7L718.8 515.4L720.3 514.1L721.8 512.7L723.2 511.4L724.6 510.0L725.9 508.5L727.1 506.9L728.3 505.3L729.6 503.7L730.8 502.2L732.2 500.8L733.6 499.5L735.2 498.0L736.8 496.7L738.6 496.0L740.4 496.1L742.3 496.3L744.4 496.6L746.4 496.9L748.4 497.0L750.3 496.9L752.2 496.5L754.2 495.9L756.1 495.1L758.0 494.3L759.7 493.4L761.4 492.5L762.9 491.3L764.4 490.0L765.8 488.5L767.1 487.0L768.4 485.5L769.7 484.0L771.0 482.5L772.2 480.9L773.3 479.3L774.4 477.6L775.9 477.1L777.4 476.8L778.9 476.8L780.4 477.3L781.9 478.2L783.4 479.7L784.9 481.4L786.4 482.8L787.9 484.2L789.4 485.3L790.9 486.1L792.4 486.5L793.9 486.7L795.4 486.4L796.9 485.8L798.4 484.9L799.9 483.8L801.4 482.4L802.9 481.0L804.4 479.5L805.9 478.2L807.4 476.9L808.9 476.0L810.4 475.3L811.9 474.9L813.4 475.0L814.9 475.3L816.4 476.0L817.9 477.0L819.4 478.2L820.9 479.6L822.4 481.0L823.9 482.5L825.4 483.8L826.9 484.9L828.4 485.8L829.9 486.4L831.4 486.7L832.9 486.6L834.4 486.2L835.9 485.4L837.4 484.4L838.9 483.2L840.4 481.9L841.9 480.4L843.4 479.1L844.9 477.8L846.4 476.8L847.9 476.0L849.4 475.5L850.9 475.4L852.4 475.6L853.9 476.1L855.4 476.9L856.9 478.0L858.4 479.3L859.9 480.7L861.4 482.1L862.9 483.4L864.4 484.6L865.9 485.6L867.4 486.3L868.9 486.7L870.4 486.8L871.9 486.5L873.4 485.9L874.9 485.0L876.4 483.9L877.9 482.6L879.4 481.3L880.9 479.9L882.4 478.7L883.9 477.5L885.4 476.7L886.9 476.1L888.4 475.8L889.9 475.8L891.4 476.2L892.9 476.9L894.4 477.8L895.9 479.0L897.4 480.3L898.9 481.7L900.4 483.0L901.9 484.3L903.4 485.3L904.9 486.1L906.4 486.7L907.9 486.9L909.4 486.7L910.9 486.3L912.4 485.6L913.9 484.6L915.4 483.4L916.9 482.1L918.4 480.7L919.9 479.5L921.4 478.3L922.9 477.3L924.4 476.6L925.9 476.2L927.4 476.1L928.9 476.3L930.4 476.9L931.9 477.7L933.4 478.7L934.9 480.0L936.4 481.3L937.9 482.6L939.4 483.9L940.9 485.0L942.4 485.9L943.9 486.5L945.4 486.9L946.9 486.9L948.4 486.6L949.9 486.0L951.4 485.1L952.9 484.0L954.4 482.8L955.9 481.5L957.4 480.2L958.9 479.0L960.4 478.0L961.9 477.2L963.4 476.6L964.9 476.4L966.4 476.5L967.9 476.9L969.4 477.6L970.9 478.5L972.4 479.6L973.9 480.9L975.4 482.2L976.9 483.5L978.4 484.6L979.9 485.6L981.4 486.4L982.9 486.8L984.4 487.0L985.9 486.8L987.4 486.4L988.9 485.6L990.4 484.6L991.9 483.5L993.4 482.2L994.9 481.0L996.4 479.7L997.9 478.6L999.4 477.7L1000.9 477.1L1002.4 476.7L1003.9 476.7L1005.4 476.9L1006.9 477.5L1008.4 478.3L1009.9 479.3L1011.4 480.5L1012.9 481.8L1014.4 483.1L1015.9 484.2L1017.4 485.3L1018.9 486.1L1020.4 486.7L1021.9 487.0L1023.4 487.0L1024.9 486.6L1026.4 486.0L1027.9 485.2L1029.4 484.1L1030.9 482.9L1032.4 481.7L1033.9 480.4L1035.4 479.3L1036.9 478.3L1038.4 477.6L1039.9 477.1L1041.4 476.9L1042.9 477.0L1044.4 477.5L1045.9 478.2L1047.4 479.1L1048.9 480.2L1050.4 481.4L1051.9 482.6L1053.4 483.8L1054.9 484.9L1056.4 485.8L1057.9 486.5L1059.4 486.9L1060.9 487.0L1062.4 486.8L1063.9 486.4L1065.4 485.6L1066.9 484.6L1068.4 483.5L1069.9 482.3L1071.4 481.1L1072.9 479.9L1074.4 478.9L1075.9 478.1L1077.4 477.5L1078.9 477.2L1080.4 477.2L1081.9 477.5L1083.4 478.0L1084.9 478.8L1086.4 479.9L1087.9 481.0L1089.4 482.2L1090.9 483.4L1092.4 484.5L1093.9 485.5L1095.4 486.3L1096.9 486.8L1098.4 487.0L1099.9 487.0L1101.4 486.6L1102.9 486.0L1104.4 485.1L1105.9 484.1L1107.4 482.9L1108.9 481.7L1110.4 480.6L1111.9 479.5L1113.4 478.6L1114.9 477.9L1116.4 477.5L1117.9 477.3L1119.4 477.5L1120.9 477.9L1122.4 478.6L1123.9 479.6L1125.4 480.6L1126.9 481.8L1128.4 483.0L1129.9 484.1L1131.4 485.2L1132.9 486.0L1134.4 486.6L1135.9 487.0L1137.4 487.1L1138.9 486.8L1140.4 486.3L1141.9 485.6L1143.4 484.6L1144.9 483.5L1146.4 482.4L1147.9 481.2L1149.4 480.1L1150.9 479.1L1152.4 478.3L1153.9 477.8L1155.4 477.6L1156.9 477.6L1158.4 477.9L1159.9 478.5L1161.4 479.3L1162.9 480.3L1164.4 481.4L1165.9 482.6L1167.4 483.7L1168.9 484.8L1170.4 485.7L1171.9 486.4L1173.4 486.9L1174.9 487.1L1176.4 487.0L1177.9 486.6L1179.4 485.9L1180.9 485.1L1182.4 484.1L1183.9 482.9L1185.4 481.8L1186.9 480.7L1188.4 479.7L1189.9 478.8L1191.4 478.2L1192.9 477.8L1194.4 477.7L1195.9 477.9L1197.4 478.3L1198.9 479.1L1200.4 480.0L1201.9 481.0L1203.4 482.1L1204.9 483.3L1206.4 484.4L1207.9 485.4L1209.4 486.1L1210.9 486.7L1212.4 487.0L1213.9 487.0L1215.4 486.8L1216.9 486.3L1218.4 485.5L1219.9 484.6L1221.4 483.5L1222.9 482.4L1224.4 481.2L1225.9 480.2L1227.4 479.3L1228.9 478.6L1230.4 478.1L1231.9 477.9L1233.4 477.9L1234.9 478.3L1236.4 478.9L1237.9 479.7L1239.4 480.6L1240.9 481.7L1242.4 482.9L1243.9 484.0L1245.4 485.0L1246.9 485.8L1248.4 486.5L1249.9 486.9L1251.4 487.0L1252.9 486.9L1254.4 486.5L1255.9 485.9L1257.4 485.0L1258.9 484.0L1260.4 482.9L1261.9 481.8L1263.4 480.7L1264.9 479.8L1266.4 479.0L1267.9 478.4L1269.4 478.1L1270.9 478.0L1272.4 478.2L1273.9 478.7L1275.4 479.4L1276.9 480.3L1278.4 481.3L1279.9 482.4L1281.4 483.5L1282.9 484.6L1284.4 485.5L1285.9 486.2L1287.4 486.7L1288.9 487.0L1290.4 487.0L1291.9 486.7L1293.4 486.2L1294.9 485.4L1296.4 484.5L1297.9 483.4L1299.4 482.4L1300.9 481.3L1302.4 480.3L1303.9 479.4L1305.4 478.8L1306.9 478.3L1308.4 478.1L1309.9 478.2L1311.4 478.6L1312.9 479.2L1314.4 480.0L1315.9 481.0L1317.4 482.0L1318.9 483.1L1320.4 484.2L1321.9 485.1L1323.4 485.9L1324.9 486.5L1326.4 486.9L1327.9 487.0L1329.4 486.8L1330.9 486.4L1332.4 485.8L1333.9 484.9L1335.4 483.9L1336.9 482.9L1338.4 481.8L1339.9 480.8L1341.4 479.9L1342.9 479.1L1344.4 478.6L1345.9 478.3L1347.4 478.3L1348.9 478.5L1350.4 479.0L1351.9 479.7L1353.4 480.6L1354.9 481.6L1356.4 482.7L1357.9 483.7L1359.4 484.7L1360.9 485.6L1362.4 486.3L1363.9 486.7L1365.4 487.0L1366.9 486.9L1368.4 486.6L1369.9 486.1L1371.4 485.3L1372.9 484.4L1374.4 483.4L1375.9 482.3L1377.4 481.3L1378.9 480.3L1380.4 479.5L1381.9 478.9L1383.4 478.5L1384.9 478.4L1386.4 478.5L1387.9 478.9L1389.4 479.5L1390.9 480.3L1392.4 481.2L1393.9 482.3L1395.4 483.3L1396.9 484.3L1398.4 485.2L1399.9 486.0L1401.4 486.5L1402.9 486.9L1404.4 486.9L1405.9 486.7L1407.4 486.3L1408.9 485.6L1410.4 484.8L1411.9 483.8L1413.4 482.8L1414.9 481.8L1416.4 480.8L1417.9 479.9L1419.4 479.3L1420.9 478.8L1422.4 478.5L1423.9 478.5L1425.4 478.8L1426.9 479.3L1428.4 480.0L1429.9 480.9L1431.4 481.9L1432.9 482.9L1434.4 483.9L1435.9 484.9L1437.4 485.7L1438.9 486.3L1440.4 486.7L1441.9 486.9L1443.4 486.8L1444.9 486.5L1446.4 485.9L1447.9 485.2L1449.4 484.3L1450.9 483.3L1452.4 482.3L1453.9 481.3L1455.4 480.4L1456.9 479.6L1458.4 479.1L1459.9 478.7L1461.4 478.6L1462.9 478.8L1464.4 479.2L1465.9 479.8L1467.4 480.6L1468.9 481.5L1470.4 482.5L1471.9 483.5L1473.4 484.5L1474.9 485.3L1476.4 486.0L1477.9 486.5L1479.4 486.8L1480.9 486.8L1482.4 486.6L1483.9 486.2L1485.4 485.5L1486.9 484.7L1488.4 483.7L1489.9 482.7L1491.4 481.7L1492.9 480.8L1494.4 480.0L1495.9 479.4L1497.4 478.9L1498.9 478.7L1500.4 478.8L1501.9 479.1L1503.4 479.6L1504.9 480.3L1506.4 481.1L1507.9 482.1L1509.4 483.1L1510.9 484.1L1512.4 485.0L1513.9 485.7L1515.4 486.3L1516.9 486.7L1518.4 486.8L1519.9 486.7L1521.4 486.4L1522.9 485.8L1524.4 485.0L1525.9 484.2L1527.4 483.2L1528.9 482.2L1530.4 481.3L1531.9 480.4L1533.4 479.7L1534.9 479.2L1536.4 478.9L1537.9 478.8L1539.4 479.0L1540.9 479.4L1542.4 480.0L1543.9 480.8L1545.4 481.7L1546.9 482.7L1548.4 483.7L1549.9 484.6L1551.4 485.4L1552.9 486.1L1554.4 486.5L1555.9 486.7L1557.4 486.7L1558.9 486.5L1560.4 486.0L1561.9 485.4L1563.4 484.6L1564.9 483.6L1566.4 482.7L1567.9 481.7L1569.4 480.8L1570.9 480.1L1572.4 479.5L1573.9 479.1L1575.4 478.9L1576.9 479.0L1578.4 479.3L1579.9 479.8L1581.4 480.5L1582.9 481.4L1584.4 482.3L1585.9 483.3L1587.4 484.2L1588.9 485.0L1590.4 485.8L1591.9 486.3L1593.4 486.6L1594.9 486.7L1596.4 486.6L1597.9 486.2L1599.4 485.6L1600.9 484.9L1602.4 484.0L1603.9 483.1L1605.4 482.2L1606.9 481.2L1608.4 480.4L1609.9 479.8L1611.4 479.3L1612.9 479.0L1614.4 479.0L1615.9 479.2L1617.4 479.6L1618.9 480.3L1620.4 481.0L1621.9 481.9L1623.4 482.9L1624.9 483.8L1626.4 484.7L1627.9 485.4L1629.4 486.1L1630.9 486.5L1632.4 486.7L1633.9 486.6L1635.4 486.4L1636.9 485.9L1638.4 485.2L1639.9 484.4L1641.4 483.5L1642.9 482.6L1644.4 481.7L1645.9 480.8L1647.4 480.1L1648.9 479.6L1650.4 479.2L1651.9 479.1L1653.4 479.2L1654.9 479.5L1656.4 480.0L1657.9 480.7L1659.4 481.6L1660.9 482.5L1662.4 483.4L1663.9 484.3L1665.4 485.1L1666.9 485.8L1668.4 486.3L1669.9 486.6L1671.4 486.6L1672.9 486.5L1674.4 486.1L1675.9 485.5L1677.4 484.8L1678.9 483.9L1680.4 483.0L1681.9 482.1L1683.4 481.2L1684.9 480.5L1686.4 479.8L1687.9 479.4L1689.4 479.2L1690.9 479.2L1692.4 479.4L1693.9 479.9L1695.4 480.5L1696.9 481.2L1698.4 482.1L1699.9 483.0L1701.4 483.9L1702.9 484.8L1704.4 485.5L1705.9 486.0L1707.4 486.4L1708.9 486.6L1710.4 486.5L1711.9 486.2L1713.4 485.7L1714.9 485.1L1716.4 484.3L1717.9 483.4L1719.4 482.5L1720.9 481.6L1722.4 480.8L1723.9 480.1L1725.4 479.6L1726.9 479.3L1728.4 479.2L1729.9 479.4L1731.4 479.7L1732.9 480.2L1734.4 480.9L1735.9 481.8L1737.4 482.6L1738.9 483.5L1740.4 484.4L1741.9 485.2L1743.4 485.8L1744.9 486.2L1746.4 486.5L1747.9 486.5L1749.4 486.3L1750.9 485.9L1752.4 485.4L1753.9 484.6L1755.4 483.8L1756.9 482.9L1758.4 482.0L1759.9 481.2L1761.4 480.5L1762.9 479.9L1764.4 479.5L1765.9 479.3L1767.4 479.4L1768.9 479.6L1770.4 480.1L1771.9 480.7L1773.4 481.4L1774.9 482.3L1776.4 483.2L1777.9 484.0L1779.4 484.8L1780.9 485.5L1782.4 486.0L1783.9 486.4L1785.4 486.5L1786.9 486.4L1788.4 486.1L1789.9 485.6L1791.4 484.9L1792.9 484.2L1794.4 483.3L1795.9 482.4L1797.4 481.6L1798.9 480.8L1800.4 480.2L1801.9 479.7L1803.4 479.4L1804.9 479.4L1806.4 479.5L1807.9 479.9L1809.4 480.4L1810.9 481.1L1812.4 481.9L1813.9 482.8L1815.4 483.6L1816.9 484.5L1818.4 485.2L1819.9 485.8L1821.4 486.2L1822.9 486.4L1824.4 486.4L1825.9 486.2L1827.4 485.8L1828.9 485.2L1830.4 484.5L1831.9 483.7L1833.4 482.8L1834.9 482.0L1836.4 481.2L1837.9 480.5L1839.4 480.0L1840.9 479.6L1842.4 479.5L1843.9 479.5L1845.4 479.8L1846.9 480.2L1848.4 480.9L1849.9 481.6L1851.4 482.4L1852.9 483.3L1854.4 484.1L1855.9 484.9L1857.4 485.5L1858.9 486.0L1860.4 486.3L1861.9 486.4L1863.4 486.3L1864.9 485.9L1866.4 485.4L1867.9 484.8L1869.4 484.0L1870.9 483.2L1872.4 482.4L1873.9 481.5L1875.4 480.8L1876.9 480.2L1878.4 479.8L1879.9 479.6L1881.4 479.5L1882.9 479.7L1884.4 480.1L1885.9 480.6L1887.4 481.3L1888.9 482.1L1890.4 482.9L1891.9 483.8L1893.4 484.5L1894.9 485.2L1896.4 485.8L1897.9 486.1L1899.4 486.3L1900.9 486.3L1902.4 486.1L1903.9 485.6L1905.4 485.1L1906.9 484.4L1908.4 483.6L1909.9 482.7L1911.4 481.9L1912.9 481.2L1914.4 480.5L1915.9 480.0L1917.4 479.7L1918.9 479.6L1920.4 479.7L1921.9 480.0L1923.4 480.4L1924.9 481.0L1926.4 481.8L1927.9 482.6L1929.4 483.4L1930.9 484.2L1932.4 484.9L1933.9 485.5L1935.4 485.9L1936.9 486.2L1938.4 486.3L1939.9 486.1L1941.4 485.8L1942.9 485.3L1944.4 484.6L1945.9 483.9L1947.4 483.1L1948.9 482.3L1950.4 481.5L1951.9 480.8L1953.4 480.3L1954.9 479.9L1956.4 479.7L1957.9 479.7L1959.4 479.9L1960.9 480.3L1962.4 480.8L1963.9 481.5L1965.4 482.2L1966.9 483.0L1968.4 483.8L1969.9 484.6L1971.4 485.2L1972.9 485.7L1974.4 486.1L1975.9 486.2L1977.4 486.2L1978.9 485.9L1980.4 485.5L1981.9 484.9L1983.4 484.2L1984.9 483.4L1986.4 482.6L1987.9 481.9L1989.4 481.1L1990.9 480.5L1992.4 480.1L1993.9 479.8L1995.4 479.7L1996.9 479.8L1998.4 480.1L1999.9 480.6L2001.4 481.2L2002.9 481.9L2004.4 482.7L2005.9 483.5L2007.4 484.3L2008.9 484.9L2010.4 485.5L2011.9 485.9L2013.4 486.1L2014.9 486.2L2016.4 486.0L2017.9 485.7L2019.4 485.1L2020.9 484.5L2022.4 483.8L2023.9 483.0L2025.4 482.2L2026.9 481.5L2028.4 480.8L2029.9 480.3L2031.4 480.0L2032.9 479.8L2034.4 479.8L2035.9 480.0L2037.4 480.4L2038.9 481.0L2040.4 481.6L2041.9 482.4L2043.4 483.2L2044.9 483.9L2046.4 484.6L2047.9 485.2L2049.4 485.7L2050.9 486.0L2052.4 486.1L2053.9 486.0L2055.4 485.8L2056.9 485.3L2058.4 484.8L2059.9 484.1L2061.4 483.3L2062.9 482.6L2064.4 481.8L2065.9 481.1L2067.4 480.6L2068.9 480.2L2070.4 479.9L2071.9 479.8L2073.4 480.0L2074.9 480.3L2076.4 480.8L2077.9 481.4L2079.4 482.1L2080.9 482.8L2082.4 483.6L2083.9 484.3L2085.4 485.0L2086.9 485.5L2088.4 485.8L2089.9 486.0L2091.4 486.0L2092.9 485.9L2094.4 485.5L2095.9 485.0L2097.4 484.4L2098.9 483.7L2100.4 482.9L2101.9 482.1L2103.4 481.4L2104.9 480.8L2106.4 480.4L2107.9 480.0L2109.4 479.9L2110.9 479.9L2112.4 480.2L2113.9 480.6L2115.4 481.1L2116.9 481.8L2118.4 482.5L2119.9 483.3L2121.4 484.0L2122.9 484.7L2124.4 485.2L2125.9 485.7L2127.4 485.9L2128.9 486.0L2130.4 485.9L2131.9 485.6L2133.4 485.2L2134.9 484.6L2136.4 484.0L2137.9 483.2L2139.4 482.5L2140.9 481.8L2142.4 481.1L2143.9 480.6L2145.4 480.2L2146.9 480.0L2148.4 480.0L2149.9 480.1L2151.4 480.4L2152.9 480.9L2154.4 481.5L2155.9 482.2L2157.4 482.9L2158.9 483.7L2160.4 484.4L2161.9 485.0L2163.4 485.5L2164.9 485.8L2166.4 486.0L2167.9 485.9L2169.4 485.7L2170.9 485.4L2172.4 484.9L2173.9 484.2L2175.4 483.5L2176.9 482.8L2178.4 482.1L2179.9 481.4L2181.4 480.9L2182.9 480.4L2184.4 480.1L2185.9 480.0L2187.4 480.1L2188.9 480.3L2190.4 480.7L2191.9 481.3L2193.4 481.9L2194.9 482.6L2196.4 483.3L2197.9 484.1L2199.4 484.7L2200.9 485.2L2202.4 485.6L2203.9 485.9L2205.4 485.9L2206.9 485.8L2208.4 485.5L2209.9 485.1L2211.4 484.5L2212.9 483.8L2214.4 483.1L2215.9 482.4L2217.4 481.7L2218.9 481.1L2220.4 480.6L2221.9 480.3L2223.4 480.1L2224.9 480.1L2226.4 480.3L2227.9 480.6L2229.4 481.1L2230.9 481.7L2232.4 482.3L2233.9 483.0"/>
<path stroke="#000" stroke-dasharray="7 15" d="M315.8 398.0L315.8 399.9L315.8 401.8L315.9 403.7L315.9 405.6L315.9 407.5L316.0 409.4L316.0 411.3L316.0 413.2L316.0 415.1L316.1 417.0L316.1 418.9L316.1 420.8L316.2 422.7L316.2 424.6L316.2 426.5L316.3 428.4L316.3 430.3L316.4 432.2L316.4 434.1L316.4 436.0L316.5 437.9L316.5 439.8L316.6 441.7L316.6 443.6L316.6 445.5L316.7 447.4L316.7 449.3L316.8 451.2L316.8 453.1L316.9 455.0L316.9 456.9L317.0 458.8L317.0 460.7L317.1 462.6L317.1 464.4L317.2 466.3L317.2 468.2L317.3 470.1L317.3 472.0L317.4 473.9L317.5 475.8L317.5 477.7L317.6 479.6L317.6 481.5L317.7 483.4L317.7 485.3L317.8 487.2L317.9 489.1L317.9 491.0L318.0 492.9L318.0 494.8L318.1 496.7L318.1 498.6L318.2 500.5L318.3 502.4L318.3 504.3L318.4 506.2L318.5 508.1L318.5 510.0L318.6 511.9L318.6 513.8L318.7 515.7L318.8 517.6L318.8 519.5L318.9 521.4L318.9 523.3L319.0 525.2L319.1 527.1L319.1 529.0L319.2 530.9L319.2 532.8L319.3 534.7L319.3 536.6L319.4 538.5L319.4 540.4L319.5 542.3L319.5 544.2L319.6 546.1L319.6 548.0L319.7 549.9L319.7 551.8L319.8 553.7L319.8 555.6L319.8 557.5L319.9 559.4L319.9 561.3L320.0 563.2L320.0 565.1L320.1 566.9L320.1 568.8L320.2 570.7L320.2 572.6L320.3 574.5L320.3 576.4L320.4 578.3L320.4 580.2L320.5 582.1L320.6 584.0L320.6 585.9L320.7 587.8L320.7 589.7L320.8 591.6L320.9 593.5L320.9 595.4L321.0 597.3L321.0 599.2L321.1 601.1L321.2 603.0L321.2 604.9L321.3 606.8L321.4 608.7L321.4 610.6L321.5 612.5L321.5 614.4L321.6 616.3L321.6 618.2L321.7 620.1L321.8 622.0L321.8 623.9L321.9 625.8L321.9 627.7L322.0 629.6L322.0 631.5L322.1 633.4L322.1 635.3L322.2 637.2L322.2 639.1L322.3 641.0L322.3 642.9L322.4 644.8L322.4 646.7L322.5 648.6L322.5 650.5L322.6 652.4L322.6 654.3L322.7 656.2L322.7 658.1L322.8 660.0L322.8 661.9L322.9 663.8L323.0 665.7L323.0 667.6L323.1 669.4L323.2 671.3L323.2 673.2L323.3 675.1L323.4 677.0L323.5 678.9L323.5 680.8L323.6 682.7L323.7 684.6L323.7 686.5L323.8 688.4L323.8 690.3L323.9 692.2L324.0 694.1L324.0 696.0L324.1 697.9L324.2 699.8L324.2 701.7L324.3 703.6L324.3 705.5L324.4 707.4L324.5 709.3L324.5 711.2L324.6 713.1L324.6 715.0L324.7 716.9L324.8 718.8L324.8 720.7L324.9 722.6L324.9 724.5L325.0 726.4L325.0 728.3L325.1 730.2L325.2 732.1L325.2 734.0L325.3 735.9L325.3 737.8L325.4 739.7L325.4 741.6L325.5 743.5L325.5 745.4L325.6 747.3L325.6 749.2L325.7 751.1L325.8 753.0L325.8 754.9L325.9 756.8L325.9 758.7L326.0 760.6L326.0 762.5L326.1 764.3L326.1 766.2L326.2 768.1L326.2 770.0L326.3 771.9L326.3 773.8L326.4 775.7L326.4 777.6L326.5 779.5L326.5 781.4L326.6 783.3L326.6 785.2L326.6 787.1L326.7 789.0L326.7 790.9L326.8 792.8L326.8 794.7L326.8 796.6L326.9 798.5L326.9 800.4L327.0 802.3L327.0 804.2L327.0 806.1L327.1 808.0L327.1 809.9L327.2 811.8L327.2 813.7L327.2 815.6L327.3 817.5L327.3 819.4L327.4 821.3L327.4 823.2L327.4 825.1L327.5 827.0L327.5 828.9L327.6 830.8L327.6 832.7L327.6 834.6L327.7 836.5L327.7 838.4L327.8 840.3L327.8 842.2L327.9 844.1L327.9 846.0L328.0 847.9L328.0 849.8L328.1 851.7L328.1 853.6L328.2 855.5L328.2 857.4L328.3 859.3L328.4 861.2L328.4 863.1L328.5 865.0L328.6 866.9L328.6 868.8L328.7 870.7L328.8 872.6L328.9 874.4L329.0 876.3L329.1 878.2L329.2 880.1L329.3 882.0L329.4 883.9L329.5 885.8L329.5 887.7L329.6 889.6L329.7 891.5L329.8 893.4L329.9 895.3L330.0 897.2L330.1 899.1L330.2 901.0L330.3 902.9L330.4 904.8L330.4 906.7L330.5 908.6L330.6 910.5L330.6 912.4L330.7 914.3L330.8 916.2L330.8 918.1L330.9 920.0L331.0 921.9L331.0 923.8L331.1 925.7L331.1 927.6L331.2 929.5L331.3 931.4L331.3 933.3L331.4 935.2L331.4 937.1L331.5 939.0L331.5 940.9L331.6 942.8L331.6 944.7L331.7 946.6L331.7 948.5L331.8 950.4L331.8 952.3L331.9 954.2L332.0 956.1L332.0 958.0L332.1 959.9L332.1 961.7L332.2 963.6L332.2 965.5L332.3 967.4L332.4 969.3L332.4 971.2L332.5 973.1L332.6 975.0L332.6 976.9L332.7 978.8L332.8 980.7L332.9 982.6L333.0 984.5L333.0 986.4L333.1 988.3L333.2 990.2L333.3 992.1L333.4 994.0L333.5 995.9L333.6 997.8L333.8 999.7L334.0 1001.6L334.1 1003.5L334.3 1005.4L334.5 1007.2L334.6 1009.1L334.8 1011.0L334.9 1012.9L335.0 1014.8L335.1 1016.7L335.2 1018.6L335.3 1020.5L335.3 1022.4L335.4 1024.3L335.4 1026.2L335.5 1028.1L335.5 1030.0L335.6 1031.9L335.7 1033.8L335.7 1035.7L335.8 1037.6L335.8 1039.5L335.9 1041.4L336.0 1043.3L336.1 1045.2L336.2 1047.1L336.3 1049.0L336.4 1050.9L336.5 1052.8L336.5 1054.7L336.6 1056.6L336.7 1058.5L336.8 1060.4L336.9 1062.3L337.0 1064.2L337.1 1066.1L337.1 1067.9L337.2 1069.8L337.3 1071.7L337.4 1073.6L337.5 1075.5L337.6 1077.4L337.7 1079.3L337.8 1081.2L337.8 1083.1L337.9 1085.0L338.0 1086.9L338.1 1088.8L338.2 1090.7L338.3 1092.6L338.4 1094.5L338.6 1096.4L338.7 1098.3L338.8 1100.2L338.9 1102.1L339.0 1104.0L339.1 1105.9L339.2 1107.8L339.3 1109.7L339.4 1111.6L339.6 1113.5L339.7 1115.4L339.8 1117.2L339.9 1119.1L340.1 1121.0L340.2 1122.9L340.3 1124.8L340.4 1126.7L340.6 1128.6L340.7 1130.5L340.8 1132.4L341.0 1134.3L341.1 1136.2L341.3 1138.1L341.4 1140.0L341.6 1141.9L341.7 1143.8L341.9 1145.7L342.0 1147.6L342.2 1149.4L342.4 1151.3L342.5 1153.2L342.7 1155.1L342.9 1157.0L343.1 1158.9L343.3 1160.8L343.5 1162.7L343.7 1164.6L343.9 1166.4L344.1 1168.3L344.3 1170.2L344.5 1172.1L344.7 1174.0L344.9 1175.9L345.1 1177.8L345.3 1179.7L345.6 1181.5L345.8 1183.4L346.0 1185.3L346.2 1187.2L346.4 1189.1L346.6 1191.0L346.8 1192.9L347.1 1194.8L347.3 1196.6L347.5 1198.5L347.7 1200.4L348.0 1202.3L348.2 1204.2L348.4 1206.1L348.6 1208.0L348.9 1209.8L349.1 1211.7L349.3 1213.6L349.6 1215.5L349.8 1217.4L350.1 1219.3L350.3 1221.1L350.5 1223.0L350.8 1224.9L351.0 1226.8L351.3 1228.7L351.5 1230.6L351.8 1232.4L352.0 1234.3L352.3 1236.2L352.6 1238.1L352.9 1240.0L353.1 1241.8L353.4 1243.7L353.7 1245.6L354.0 1247.5L354.3 1249.3L354.6 1251.2L354.9 1253.1L355.2 1255.0L355.5 1256.8L355.8 1258.7L356.2 1260.6L356.5 1262.5L356.8 1264.3L357.1 1266.2L357.5 1268.1L357.8 1269.9L358.2 1271.8L358.5 1273.7L358.9 1275.5L359.3 1277.4L359.7 1279.2L360.1 1281.1L360.5 1283.0L360.9 1284.8L361.3 1286.7L361.7 1288.5L362.2 1290.4L362.6 1292.2L363.1 1294.1L363.6 1295.9L364.1 1297.7L364.6 1299.5L365.2 1301.4L365.7 1303.2L366.3 1305.1L366.9 1306.9L367.5 1308.8L368.1 1310.6L368.8 1312.5L369.5 1314.3L370.2 1316.0L371.0 1317.7L371.8 1319.3L372.7 1320.8L373.8 1322.3L374.9 1323.8L376.2 1325.3L377.6 1326.7L379.1 1328.0L380.6 1329.3L382.2 1330.4L383.7 1331.4L385.4 1332.2L387.2 1332.9L389.0 1333.5L390.2 1332.5L391.3 1331.6L392.4 1330.6L393.5 1329.6L394.5 1328.5L395.5 1327.4L396.5 1326.3L397.5 1325.2L398.4 1324.1L399.4 1322.9L400.3 1321.7L401.2 1320.5L402.1 1319.3L402.9 1318.1L403.8 1316.9L404.6 1315.7L405.4 1314.5L406.2 1313.2L407.0 1312.0L407.8 1310.7L408.6 1309.4L409.4 1308.2L410.2 1306.9L410.9 1305.6L411.7 1304.3L412.4 1303.0L413.1 1301.7L413.8 1300.4L414.4 1299.1L415.1 1297.7L415.7 1296.4L416.3 1295.0L416.9 1293.7L417.5 1292.3L418.0 1291.0L418.6 1289.6L419.1 1288.2L419.7 1286.8L420.2 1285.4L420.7 1284.0L421.2 1282.6L421.7 1281.2L422.2 1279.8L422.8 1278.4L423.3 1277.0L423.8 1275.6L424.3 1274.2L424.8 1272.8L425.3 1271.4L425.8 1270.0L426.3 1268.7L426.8 1267.3L427.3 1265.9L427.8 1264.5L428.3 1263.1L428.8 1261.7L429.3 1260.3L429.8 1258.8L430.3 1257.4L430.8 1256.0L431.3 1254.6L431.8 1253.2L432.3 1251.8L432.7 1250.4L433.2 1249.0L433.7 1247.6L434.2 1246.2L434.7 1244.8L435.1 1243.4L435.6 1242.0L436.1 1240.6L436.5 1239.2L437.0 1237.8L437.5 1236.4L437.9 1235.0L438.4 1233.5L438.9 1232.1L439.3 1230.7L439.8 1229.3L440.2 1227.9L440.7 1226.5L441.1 1225.1L441.6 1223.6L442.0 1222.2L442.5 1220.8L442.9 1219.4L443.4 1218.0L443.8 1216.6L444.3 1215.2L444.7 1213.7L445.2 1212.3L445.7 1210.9L446.1 1209.5L446.6 1208.1L447.1 1206.7L447.5 1205.3L448.0 1203.9L448.5 1202.5L448.9 1201.0L449.4 1199.6L449.8 1198.2L450.3 1196.8L450.7 1195.4L451.2 1194.0L451.6 1192.6L452.1 1191.1L452.5 1189.7L452.9 1188.3L453.3 1186.9L453.7 1185.4L454.2 1184.0L454.6 1182.6L455.0 1181.2L455.4 1179.7L455.8 1178.3L456.2 1176.9L456.6 1175.4L457.0 1174.0L457.4 1172.6L457.9 1171.2L458.3 1169.7L458.7 1168.3L459.1 1166.9L459.5 1165.5L459.9 1164.0L460.3 1162.6L460.7 1161.2L461.1 1159.7L461.5 1158.3L461.9 1156.9L462.3 1155.5L462.7 1154.0L463.1 1152.6L463.5 1151.2L463.9 1149.7L464.3 1148.3L464.7 1146.9L465.0 1145.4L465.4 1144.0L465.8 1142.6L466.2 1141.1L466.5 1139.7L466.9 1138.2L467.3 1136.8L467.7 1135.4L468.0 1133.9L468.4 1132.5L468.7 1131.0L469.1 1129.6L470.0 1128.4L471.0 1127.2L472.0 1126.1L473.0 1124.9L474.0 1123.8L475.0 1122.6L476.0 1121.5L477.1 1120.4L478.2 1119.4L479.3 1118.3L480.5 1117.3L481.6 1116.3L482.6 1115.2L483.5 1114.0L484.3 1112.8L485.0 1111.5L485.7 1110.2L486.4 1108.9L487.1 1107.5L487.7 1106.1L488.3 1104.7L488.9 1103.3L489.4 1101.8L490.0 1100.4L490.5 1098.9L491.1 1097.5L491.6 1096.1L492.2 1094.6L492.7 1093.2L493.2 1091.8L493.7 1090.4L494.3 1088.9L494.8 1087.5L495.2 1086.1L495.7 1084.6L496.2 1083.2L496.7 1081.7L497.1 1080.3L497.6 1078.9L498.1 1077.4L498.5 1076.0L499.0 1074.5L499.4 1073.1L499.9 1071.6L500.3 1070.2L500.7 1068.7L501.2 1067.3L501.6 1065.8L502.0 1064.3L502.4 1062.9L502.8 1061.4L503.3 1060.0L503.7 1058.5L504.1 1057.0L504.5 1055.6L504.9 1054.1L505.3 1052.7L505.7 1051.2L506.2 1049.7L506.6 1048.3L507.0 1046.8L507.4 1045.4L507.8 1043.9L508.2 1042.5L508.7 1041.0L509.1 1039.5L509.5 1038.1L509.9 1036.6L510.3 1035.2L510.7 1033.7L511.2 1032.2L511.6 1030.8L512.0 1029.3L512.4 1027.9L512.8 1026.4L513.3 1025.0L513.7 1023.5L514.1 1022.1L514.6 1020.6L515.0 1019.1L515.4 1017.7L515.8 1016.2L516.2 1014.8L516.7 1013.3L517.1 1011.9L517.5 1010.4L517.9 1008.9L518.3 1007.5L518.7 1006.0L519.1 1004.5L519.4 1003.1L519.8 1001.6L520.2 1000.1L520.6 998.7L521.0 997.2L521.3 995.7L521.7 994.3L522.1 992.8L522.5 991.3L522.8 989.8L523.2 988.4L523.6 986.9L524.0 985.4L524.3 984.0L524.7 982.5L525.1 981.0L525.4 979.5L525.8 978.1L526.2 976.6L526.5 975.1L526.9 973.7L527.3 972.2L527.6 970.7L528.0 969.2L528.4 967.8L528.7 966.3L529.1 964.8L529.5 963.4L529.8 961.9L530.2 960.4L530.6 958.9L530.9 957.5L531.3 956.0L531.6 954.5L532.0 953.1L532.4 951.6L532.7 950.1L533.1 948.6L533.4 947.2L533.8 945.7L534.2 944.2L534.5 942.7L534.9 941.3L535.2 939.8L535.6 938.3L535.9 936.8L536.3 935.4L536.6 933.9L537.0 932.4L537.3 930.9L537.7 929.5L538.0 928.0L538.4 926.5L538.7 925.0L539.1 923.6L539.5 922.1L539.8 920.6L540.2 919.1L540.6 917.7L541.0 916.2L541.3 914.7L541.7 913.3L542.1 911.8L542.5 910.3L542.9 908.9L543.3 907.4L543.6 905.9L544.0 904.5L544.4 903.0L544.8 901.5L545.2 900.1L545.6 898.6L546.0 897.1L546.4 895.7L546.7 894.2L547.1 892.7L547.5 891.3L547.9 889.8L548.3 888.3L548.7 886.9L549.1 885.4L549.5 883.9L549.8 882.5L550.2 881.0L550.6 879.5L551.0 878.1L551.4 876.6L551.8 875.1L552.1 873.7L552.5 872.2L552.9 870.7L553.3 869.3L553.7 867.8L554.1 866.3L554.4 864.9L554.8 863.4L555.2 861.9L555.6 860.5L556.0 859.0L556.4 857.5L556.7 856.1L557.1 854.6L557.5 853.1L557.9 851.7L558.3 850.2L558.7 848.7L559.1 847.3L559.5 845.8L559.9 844.3L560.3 842.9L560.6 841.4L561.0 839.9L561.4 838.5L561.8 837.0L562.3 835.5L562.7 834.1L563.1 832.6L563.5 831.2L563.9 829.7L564.3 828.2L564.7 826.8L565.1 825.3L565.5 823.9L566.0 822.4L566.4 820.9L566.8 819.5L567.2 818.0L567.6 816.6L568.0 815.1L568.4 813.7L568.9 812.2L569.3 810.7L569.7 809.3L570.1 807.8L570.5 806.4L570.9 804.9L571.3 803.4L571.7 802.0L572.2 800.5L572.6 799.1L573.0 797.6L573.4 796.1L573.8 794.7L574.2 793.2L574.6 791.8L575.1 790.3L575.5 788.8L575.9 787.4L576.3 785.9L576.7 784.5L577.2 783.0L577.6 781.6L578.0 780.1L578.5 778.7L578.9 777.2L579.3 775.7L579.8 774.3L580.2 772.8L580.7 771.4L581.1 769.9L581.5 768.5L582.0 767.0L582.4 765.6L582.9 764.1L583.3 762.7L583.8 761.2L584.2 759.8L584.7 758.4L585.1 756.9L585.6 755.5L586.1 754.0L586.5 752.6L587.0 751.1L587.4 749.7L587.9 748.2L588.4 746.8L588.9 745.3L589.3 743.9L589.8 742.5L590.3 741.0L590.7 739.6L591.2 738.1L591.7 736.7L592.2 735.3L592.7 733.8L593.1 732.4L593.6 731.0L594.1 729.5L594.6 728.1L595.1 726.7L595.6 725.2L596.1 723.8L596.6 722.4L597.1 720.9L597.6 719.5L598.1 718.1L598.6 716.6L599.1 715.2L599.6 713.8L600.1 712.3L600.6 710.9L601.2 709.5L601.7 708.1L602.2 706.6L602.7 705.2L603.2 703.8L603.7 702.4L604.3 700.9L604.8 699.5L605.3 698.1L605.8 696.7L606.3 695.2L606.9 693.8L607.4 692.4L607.9 691.0L608.4 689.5L609.0 688.1L609.5 686.7L610.0 685.3L610.6 683.9L611.1 682.4L611.6 681.0L612.2 679.6L612.7 678.2L613.3 676.8L613.8 675.3L614.3 673.9L614.9 672.5L615.4 671.1L616.0 669.7L616.5 668.3L617.1 666.8L617.6 665.4L618.1 664.0L618.7 662.6L619.2 661.2L619.8 659.8L620.3 658.3L620.9 656.9L621.4 655.5L622.0 654.1L622.5 652.7L623.1 651.3L623.7 649.9L624.2 648.5L624.8 647.1L625.4 645.7L626.0 644.3L626.6 642.9L627.2 641.5L627.8 640.1L628.4 638.7L629.0 637.3L629.6 635.9L630.2 634.5L630.8 633.1L631.4 631.8L632.1 630.4L632.7 629.0L633.3 627.6L634.0 626.3L634.6 624.9L635.3 623.5L635.9 622.1L636.6 620.8L637.3 619.4L637.9 618.1L638.6 616.7L639.3 615.3L640.0 614.0L640.6 612.6L641.3 611.3L642.0 609.9L642.7 608.6L643.4 607.2L644.1 605.9L644.8 604.5L645.5 603.2L646.2 601.8L646.9 600.5L647.6 599.2L648.3 597.8L649.0 596.5L649.7 595.1L650.5 593.8L651.2 592.5L651.9 591.1L652.6 589.8L653.3 588.4L654.0 587.1L654.7 585.8L655.4 584.4L656.2 583.1L656.9 581.7L657.6 580.4L658.3 579.1L659.1 577.7L659.8 576.4L660.5 575.1L661.3 573.8L662.1 572.5L662.9 571.2L663.7 569.9L664.5 568.6L665.3 567.4L666.1 566.1L667.0 564.8L667.8 563.6L668.6 562.3L669.5 561.0L670.4 559.8L671.3 558.6L672.1 557.3L673.0 556.1L673.9 554.9L674.8 553.6L675.7 552.4L676.6 551.2L677.5 550.0L678.5 548.8L679.4 547.6L680.4 546.4L681.3 545.3L682.3 544.1L683.2 542.9L684.2 541.7L685.2 540.6L686.1 539.4L687.1 538.2L688.1 537.1L689.0 535.9L690.0 534.7L690.9 533.5L691.9 532.3L692.8 531.1L693.8 529.9L694.7 528.7L695.7 527.5L696.6 526.3L697.6 525.1L698.6 524.0L699.6 522.8L700.6 521.7L701.7 520.7L702.7 519.6L703.8 518.7L705.0 517.7L706.1 516.7L707.3 515.8L708.5 514.9L709.8 514.0L711.0 513.1L712.3 512.3L713.5 511.4L714.8 510.6L716.1 509.7L717.4 508.9L718.7 508.1L719.9 507.2L721.2 506.4L722.4 505.5L723.7 504.6L725.0 503.8L726.2 502.9L727.5 502.0L728.7 501.1L730.0 500.3L731.3 499.4L732.6 498.6L733.8 497.8L735.2 497.1L736.5 496.3L737.8 495.7L739.1 495.0L740.5 494.4L741.9 493.9L743.3 493.3L744.7 492.8L746.1 492.3L747.6 491.8L749.0 491.4L750.5 490.9L752.0 490.5L753.4 490.0L754.9 489.5L756.3 489.1L757.8 488.6L759.2 488.2L760.7 487.7L762.1 487.1L763.5 486.5L765.0 485.9L766.4 485.2L767.8 484.6L769.2 484.0L770.7 483.4L772.1 482.9L773.5 482.4L775.0 482.0L776.4 481.7L777.9 481.5L779.4 481.5L780.9 481.5L782.4 481.5L783.9 481.5L785.4 481.5L786.9 481.5L788.5 481.5L790.0 481.5L791.5 481.7L793.0 482.1L794.5 482.5L796.0 482.9L797.5 483.3L799.0 483.5L800.5 483.4L802.0 483.1L803.5 482.6L805.0 482.0L806.5 481.5L808.0 480.9L809.5 480.4L811.0 480.0L812.5 479.7L814.0 479.5L815.5 479.4L817.0 479.4L818.5 479.6L820.0 480.0L821.5 480.4L823.0 480.9L824.5 481.4L826.0 482.0L827.5 482.6L829.0 483.1L830.5 483.5L832.0 483.8L833.5 484.0L835.0 484.0L836.5 483.9L838.0 483.7L839.5 483.4L841.0 483.0L842.5 482.5L844.0 481.9L845.5 481.4L847.0 480.9L848.5 480.5L850.0 480.1L851.5 479.8L853.0 479.7L854.5 479.7L856.0 479.8L857.5 480.1L859.0 480.5L860.5 480.9L862.0 481.4L863.5 482.0L865.0 482.5L866.5 483.0L868.0 483.4L869.5 483.8L871.0 484.0L872.5 484.1L874.0 484.1L875.5 484.0L877.0 483.7L878.5 483.3L880.0 482.9L881.5 482.4L883.0 481.8L884.5 481.3L886.0 480.9L887.5 480.5L889.0 480.2L890.5 480.0L892.0 480.0L893.5 480.0L895.0 480.2L896.5 480.5L898.0 480.9L899.5 481.4L901.0 481.9L902.5 482.5L904.0 483.0L905.5 483.4L907.0 483.8L908.5 484.1L910.0 484.2L911.5 484.2L913.0 484.1L914.5 483.9L916.0 483.6L917.5 483.2L919.0 482.7L920.5 482.2L922.0 481.7L923.5 481.3L925.0 480.9L926.5 480.5L928.0 480.3L929.5 480.2L931.0 480.2L932.5 480.4L934.0 480.6L935.5 481.0L937.0 481.4L938.5 481.9L940.0 482.4L941.5 482.9L943.0 483.4L944.5 483.7L946.0 484.1L947.5 484.3L949.0 484.3L950.5 484.3L952.0 484.1L953.5 483.9L955.0 483.5L956.5 483.1L958.0 482.6L959.5 482.1L961.0 481.6L962.5 481.2L964.0 480.9L965.5 480.6L967.0 480.4L968.5 480.4L970.0 480.5L971.5 480.7L973.0 481.0L974.5 481.4L976.0 481.8L977.5 482.3L979.0 482.8L980.5 483.3L982.0 483.7L983.5 484.0L985.0 484.3L986.5 484.4L988.0 484.4L989.5 484.3L991.0 484.1L992.5 483.8L994.0 483.4L995.5 482.9L997.0 482.5L998.5 482.0L1000.0 481.6L1001.5 481.2L1003.0 480.9L1004.5 480.7L1006.0 480.6L1007.5 480.6L1009.0 480.8L1010.5 481.0L1012.0 481.4L1013.5 481.8L1015.0 482.2L1016.5 482.7L1018.0 483.2L1019.5 483.6L1021.0 484.0L1022.5 484.3L1024.0 484.4L1025.5 484.5L1027.0 484.4L1028.5 484.3L1030.0 484.0L1031.5 483.7L1033.0 483.2L1034.5 482.8L1036.0 482.3L1037.5 481.9L1039.0 481.5L1040.5 481.2L1042.0 480.9L1043.5 480.8L1045.0 480.8L1046.5 480.9L1048.0 481.1L1049.5 481.4L1051.0 481.7L1052.5 482.2L1054.0 482.6L1055.5 483.1L1057.0 483.5L1058.5 483.9L1060.0 484.2L1061.5 484.4L1063.0 484.5L1064.5 484.5L1066.0 484.4L1067.5 484.2L1069.0 483.9L1070.5 483.5L1072.0 483.1L1073.5 482.6L1075.0 482.2L1076.5 481.8L1078.0 481.4L1079.5 481.2L1081.0 481.0L1082.5 480.9L1084.0 481.0L1085.5 481.1L1087.0 481.4L1088.5 481.7L1090.0 482.1L1091.5 482.5L1093.0 483.0L1094.5 483.4L1096.0 483.8L1097.5 484.2L1099.0 484.4L1100.5 484.6L1102.0 484.6L1103.5 484.5L1105.0 484.4L1106.5 484.1L1108.0 483.8L1109.5 483.4L1111.0 482.9L1112.5 482.5L1114.0 482.1L1115.5 481.7L1117.0 481.4L1118.5 481.2L1120.0 481.1L1121.5 481.1L1123.0 481.2L1124.5 481.4L1126.0 481.7L1127.5 482.0L1129.0 482.4L1130.5 482.9L1132.0 483.3L1133.5 483.7L1135.0 484.1L1136.5 484.3L1138.0 484.5L1139.5 484.6L1141.0 484.6L1142.5 484.5L1144.0 484.3L1145.5 484.0L1147.0 483.6L1148.5 483.2L1150.0 482.8L1151.5 482.3L1153.0 482.0L1154.5 481.6L1156.0 481.4L1157.5 481.2L1159.0 481.2L1160.5 481.2L1162.0 481.4L1163.5 481.6L1165.0 482.0L1166.5 482.3L1168.0 482.8L1169.5 483.2L1171.0 483.6L1172.5 484.0L1174.0 484.3L1175.5 484.5L1177.0 484.6L1178.5 484.7L1180.0 484.6L1181.5 484.4L1183.0 484.1L1184.5 483.8L1186.0 483.4L1187.5 483.0L1189.0 482.6L1190.5 482.2L1192.0 481.9L1193.5 481.6L1195.0 481.4L1196.5 481.3L1198.0 481.3L1199.5 481.4L1201.0 481.6L1202.5 481.9L1204.0 482.3L1205.5 482.7L1207.0 483.1L1208.5 483.5L1210.0 483.9L1211.5 484.2L1213.0 484.4L1214.5 484.6L1216.0 484.7L1217.5 484.6L1219.0 484.5L1220.5 484.3L1222.0 484.0L1223.5 483.6L1225.0 483.3L1226.5 482.8L1228.0 482.5L1229.5 482.1L1231.0 481.8L1232.5 481.6L1234.0 481.4L1235.5 481.4L1237.0 481.5L1238.5 481.6L1240.0 481.9L1241.5 482.2L1243.0 482.6L1244.5 483.0L1246.0 483.4L1247.5 483.7L1249.0 484.1L1250.5 484.4L1252.0 484.6L1253.5 484.7L1255.0 484.7L1256.5 484.6L1258.0 484.4L1259.5 484.2L1261.0 483.8L1262.5 483.5L1264.0 483.1L1265.5 482.7L1267.0 482.3L1268.5 482.0L1270.0 481.7L1271.5 481.6L1273.0 481.5L1274.5 481.5L1276.0 481.6L1277.5 481.8L1279.0 482.1L1280.5 482.5L1282.0 482.8L1283.5 483.2L1285.0 483.6L1286.5 484.0L1288.0 484.3L1289.5 484.5L1291.0 484.7L1292.5 484.7L1294.0 484.7L1295.5 484.5L1297.0 484.3L1298.5 484.0L1300.0 483.7L1301.5 483.3L1303.0 482.9L1304.5 482.5L1306.0 482.2L1307.5 481.9L1309.0 481.7L1310.5 481.6L1312.0 481.6L1313.5 481.7L1315.0 481.8L1316.5 482.1L1318.0 482.4L1319.5 482.7L1321.0 483.1L1322.5 483.5L1324.0 483.9L1325.5 484.2L1327.0 484.4L1328.5 484.6L1330.0 484.7L1331.5 484.7L1333.0 484.6L1334.5 484.4L1336.0 484.2L1337.5 483.9L1339.0 483.5L1340.5 483.1L1342.0 482.8L1343.5 482.4L1345.0 482.1L1346.5 481.9L1348.0 481.7L1349.5 481.7L1351.0 481.7L1352.5 481.8L1354.0 482.0L1355.5 482.3L1357.0 482.6L1358.5 483.0L1360.0 483.4L1361.5 483.7L1363.0 484.1L1364.5 484.3L1366.0 484.5L1367.5 484.7L1369.0 484.7L1370.5 484.7L1372.0 484.5L1373.5 484.3L1375.0 484.0L1376.5 483.7L1378.0 483.3L1379.5 483.0L1381.0 482.6L1382.5 482.3L1384.0 482.0L1385.5 481.9L1387.0 481.8L1388.5 481.7L1390.0 481.8L1391.5 482.0L1393.0 482.2L1394.5 482.5L1396.0 482.9L1397.5 483.2L1399.0 483.6L1400.5 483.9L1402.0 484.2L1403.5 484.5L1405.0 484.6L1406.5 484.7L1408.0 484.7L1409.5 484.6L1411.0 484.4L1412.5 484.2L1414.0 483.8L1415.5 483.5L1417.0 483.1L1418.5 482.8L1420.0 482.5L1421.5 482.2L1423.0 482.0L1424.5 481.9L1426.0 481.8L1427.5 481.9L1429.0 482.0L1430.5 482.2L1432.0 482.5L1433.5 482.8L1435.0 483.1L1436.5 483.5L1438.0 483.8L1439.5 484.1L1441.0 484.4L1442.5 484.6L1444.0 484.7L1445.5 484.7L1447.0 484.6L1448.5 484.5L1450.0 484.3L1451.5 484.0L1453.0 483.7L1454.5 483.3L1456.0 483.0L1457.5 482.7L1459.0 482.4L1460.5 482.1L1462.0 482.0L1463.5 481.9L1465.0 481.9L1466.5 482.0L1468.0 482.1L1469.5 482.4L1471.0 482.7L1472.5 483.0L1474.0 483.3L1475.5 483.7L1477.0 484.0L1478.5 484.3L1480.0 484.5L1481.5 484.6L1483.0 484.7L1484.5 484.7L1486.0 484.6L1487.5 484.4L1489.0 484.1L1490.5 483.8L1492.0 483.5L1493.5 483.2L1495.0 482.8L1496.5 482.5L1498.0 482.3L1499.5 482.1L1501.0 482.0L1502.5 481.9L1504.0 482.0L1505.5 482.1L1507.0 482.3L1508.5 482.6L1510.0 482.9L1511.5 483.2L1513.0 483.6L1514.5 483.9L1516.0 484.2L1517.5 484.4L1519.0 484.6L1520.5 484.7L1522.0 484.7L1523.5 484.6L1525.0 484.5L1526.5 484.2L1528.0 484.0L1529.5 483.7L1531.0 483.3L1532.5 483.0L1534.0 482.7L1535.5 482.4L1537.0 482.2L1538.5 482.1L1540.0 482.0L1541.5 482.0L1543.0 482.1L1544.5 482.3L1546.0 482.5L1547.5 482.8L1549.0 483.1L1550.5 483.4L1552.0 483.8L1553.5 484.1L1555.0 484.3L1556.5 484.5L1558.0 484.6L1559.5 484.7L1561.0 484.6L1562.5 484.5L1564.0 484.3L1565.5 484.1L1567.0 483.8L1568.5 483.5L1570.0 483.2L1571.5 482.9L1573.0 482.6L1574.5 482.3L1576.0 482.2L1577.5 482.1L1579.0 482.0L1580.5 482.1L1582.0 482.2L1583.5 482.4L1585.0 482.7L1586.5 483.0L1588.0 483.3L1589.5 483.6L1591.0 483.9L1592.5 484.2L1594.0 484.4L1595.5 484.6L1597.0 484.6L1598.5 484.6L1600.0 484.6L1601.5 484.4L1603.0 484.2L1604.5 483.9L1606.0 483.6L1607.5 483.3L1609.0 483.0L1610.5 482.7L1612.0 482.5L1613.5 482.3L1615.0 482.2L1616.5 482.1L1618.0 482.1L1619.5 482.2L1621.0 482.4L1622.5 482.6L1624.0 482.9L1625.5 483.2L1627.0 483.5L1628.5 483.8L1630.0 484.1L1631.5 484.3L1633.0 484.5L1634.5 484.6L1636.0 484.6L1637.5 484.6L1639.0 484.5L1640.5 484.3L1642.0 484.1L1643.5 483.8L1645.0 483.5L1646.5 483.2L1648.0 482.9L1649.5 482.6L1651.0 482.4L1652.5 482.2L1654.0 482.2L1655.5 482.2L1657.0 482.2L1658.5 482.4L1660.0 482.5L1661.5 482.8L1663.0 483.1L1664.5 483.4L1666.0 483.7L1667.5 484.0L1669.0 484.2L1670.5 484.4L1672.0 484.6L1673.5 484.6L1675.0 484.6L1676.5 484.5L1678.0 484.4L1679.5 484.2L1681.0 483.9L1682.5 483.6L1684.0 483.3L1685.5 483.0L1687.0 482.8L1688.5 482.5L1690.0 482.3L1691.5 482.2L1693.0 482.2L1694.5 482.2L1696.0 482.3L1697.5 482.5L1699.0 482.7L1700.5 483.0L1702.0 483.3L1703.5 483.6L1705.0 483.9L1706.5 484.1L1708.0 484.3L1709.5 484.5L1711.0 484.6L1712.5 484.6L1714.0 484.5L1715.5 484.4L1717.0 484.2L1718.5 484.0L1720.0 483.7L1721.5 483.5L1723.0 483.2L1724.5 482.9L1726.0 482.7L1727.5 482.5L1729.0 482.3L1730.5 482.2L1732.0 482.2L1733.5 482.3L1735.0 482.5L1736.5 482.6L1738.0 482.9L1739.5 483.2L1741.0 483.4L1742.5 483.7L1744.0 484.0L1745.5 484.2L1747.0 484.4L1748.5 484.5L1750.0 484.6L1751.5 484.6L1753.0 484.5L1754.5 484.3L1756.0 484.1L1757.5 483.9L1759.0 483.6L1760.5 483.3L1762.0 483.0L1763.5 482.8L1765.0 482.6L1766.5 482.4L1768.0 482.3L1769.5 482.3L1771.0 482.3L1772.5 482.4L1774.0 482.6L1775.5 482.8L1777.0 483.1L1778.5 483.3L1780.0 483.6L1781.5 483.9L1783.0 484.1L1784.5 484.3L1786.0 484.5L1787.5 484.5L1789.0 484.6L1790.5 484.5L1792.0 484.4L1793.5 484.2L1795.0 484.0L1796.5 483.7L1798.0 483.4L1799.5 483.2L1801.0 482.9L1802.5 482.7L1804.0 482.5L1805.5 482.4L1807.0 482.3L1808.5 482.3L1810.0 482.4L1811.5 482.5L1813.0 482.7L1814.5 483.0L1816.0 483.2L1817.5 483.5L1819.0 483.8L1820.5 484.0L1822.0 484.2L1823.5 484.4L1825.0 484.5L1826.5 484.5L1828.0 484.5L1829.5 484.4L1831.0 484.3L1832.5 484.1L1834.0 483.8L1835.5 483.6L1837.0 483.3L1838.5 483.0L1840.0 482.8L1841.5 482.6L1843.0 482.5L1844.5 482.4L1846.0 482.4L1847.5 482.4L1849.0 482.5L1850.5 482.7L1852.0 482.9L1853.5 483.1L1855.0 483.4L1856.5 483.7L1858.0 483.9L1859.5 484.1L1861.0 484.3L1862.5 484.4L1864.0 484.5L1865.5 484.5L1867.0 484.4L1868.5 484.3L1870.0 484.1L1871.5 483.9L1873.0 483.7L1874.5 483.4L1876.0 483.2L1877.5 482.9L1879.0 482.7L1880.5 482.6L1882.0 482.4L1883.5 482.4L1885.0 482.4L1886.5 482.5L1888.0 482.6L1889.5 482.8L1891.0 483.0L1892.5 483.3L1894.0 483.5L1895.5 483.8L1897.0 484.0L1898.5 484.2L1900.0 484.4L1901.5 484.5L1903.0 484.5L1904.5 484.5L1906.0 484.4L1907.5 484.2L1909.0 484.0L1910.5 483.8L1912.0 483.5L1913.5 483.3L1915.0 483.0L1916.5 482.8L1918.0 482.6L1919.5 482.5L1921.0 482.4L1922.5 482.4L1924.0 482.5L1925.5 482.6L1927.0 482.8L1928.5 483.0L1930.0 483.2L1931.5 483.4L1933.0 483.7L1934.5 483.9L1936.0 484.1L1937.5 484.3L1939.0 484.4L1940.5 484.5L1942.0 484.5L1943.5 484.4L1945.0 484.3L1946.5 484.1L1948.0 483.9L1949.5 483.6L1951.0 483.4L1952.5 483.2L1954.0 482.9L1955.5 482.7L1957.0 482.6L1958.5 482.5L1960.0 482.5L1961.5 482.5L1963.0 482.6L1964.5 482.7L1966.0 482.9L1967.5 483.1L1969.0 483.3L1970.5 483.6L1972.0 483.8L1973.5 484.0L1975.0 484.2L1976.5 484.3L1978.0 484.4L1979.5 484.4L1981.0 484.4L1982.5 484.3L1984.0 484.2L1985.5 484.0L1987.0 483.8L1988.5 483.5L1990.0 483.3L1991.5 483.0L1993.0 482.8L1994.5 482.7L1996.0 482.6L1997.5 482.5L1999.0 482.5L2000.5 482.6L2002.0 482.7L2003.5 482.8L2005.0 483.0L2006.5 483.2L2008.0 483.5L2009.5 483.7L2011.0 483.9L2012.5 484.1L2014.0 484.3L2015.5 484.4L2017.0 484.4L2018.5 484.4L2020.0 484.3L2021.5 484.2L2023.0 484.0L2024.5 483.8L2026.0 483.6L2027.5 483.4L2029.0 483.2L2030.5 482.9L2032.0 482.8L2033.5 482.6L2035.0 482.6L2036.5 482.5L2038.0 482.6L2039.5 482.6L2041.0 482.8L2042.5 483.0L2044.0 483.2L2045.5 483.4L2047.0 483.6L2048.5 483.8L2050.0 484.0L2051.5 484.2L2053.0 484.3L2054.5 484.4L2056.0 484.4L2057.5 484.3L2059.0 484.3L2060.5 484.1L2062.0 483.9L2063.5 483.7L2065.0 483.5L2066.5 483.3L2068.0 483.1L2069.5 482.9L2071.0 482.7L2072.5 482.6L2074.0 482.6L2075.5 482.6L2077.0 482.6L2078.5 482.7L2080.0 482.9L2081.5 483.1L2083.0 483.3L2084.5 483.5L2086.0 483.7L2087.5 483.9L2089.0 484.1L2090.5 484.3L2092.0 484.3L2093.5 484.4L2095.0 484.4L2096.5 484.3L2098.0 484.2L2099.5 484.0L2101.0 483.8L2102.5 483.6L2104.0 483.4L2105.5 483.2L2107.0 483.0L2108.5 482.8L2110.0 482.7L2111.5 482.6L2113.0 482.6L2114.5 482.6L2116.0 482.7L2117.5 482.8L2119.0 483.0L2120.5 483.2L2122.0 483.4L2123.5 483.6L2125.0 483.8L2126.5 484.0L2128.0 484.2L2129.5 484.3L2131.0 484.3L2132.5 484.3L2134.0 484.3L2135.5 484.2L2137.0 484.1L2138.5 483.9L2140.0 483.7L2141.5 483.5L2143.0 483.3L2144.5 483.1L2146.0 482.9L2147.5 482.8L2149.0 482.7L2150.5 482.6L2152.0 482.6L2153.5 482.7L2155.0 482.8L2156.5 483.0L2158.0 483.1L2159.5 483.3L2161.0 483.6L2162.5 483.8L2164.0 483.9L2165.5 484.1L2167.0 484.2L2168.5 484.3L2170.0 484.3L2171.5 484.3L2173.0 484.2L2174.5 484.1L2176.0 483.9L2177.5 483.8L2179.0 483.6L2180.5 483.4L2182.0 483.2L2183.5 483.0L2185.0 482.8L2186.5 482.7L2188.0 482.7L2189.5 482.7L2191.0 482.7L2192.5 482.8L2194.0 482.9L2195.5 483.1L2197.0 483.3L2198.5 483.5L2200.0 483.7L2201.5 483.9L2203.0 484.0L2204.5 484.2L2206.0 484.2L2207.5 484.3L2209.0 484.3L2210.5 484.2L2212.0 484.1L2213.5 484.0L2215.0 483.8L2216.5 483.6L2218.0 483.4L2219.5 483.2L2221.0 483.1L2222.5 482.9L2224.0 482.8L2225.5 482.7L2227.0 482.7L2228.5 482.7L2230.0 482.8L2231.5 482.9L2233.0 483.0"/>
</g>
<g fill="none" stroke-width="8.33">
<path stroke="#ff0000" d="M683.8 1008H905.9"/>
<path stroke="#0000ff" stroke-dasharray="56 32.3" d="M683.8 1090H905.9"/>
<path stroke="#a2142f" stroke-dasharray="45 16.4 11.6 15.3" d="M683.8 1171.7H905.9"/>
<path stroke="#000" stroke-dasharray="7 15" d="M684.3 1253.8H905.9"/>
</g>
<g>
<text transform="translate(922.11 1024.20) scale(1.0976 1.0000)" font-family='"Liberation Serif", serif' font-size="67.0" fill="#000" stroke="#000" stroke-width="0.6">The</text>
<text transform="translate(1056.61 1024.20) scale(1.0526 1.0000)" font-family='"Liberation Serif", serif' font-size="67.0" fill="#000" stroke="#000" stroke-width="0.6">angle</text>
<text transform="translate(1231.83 1024.20) scale(1.1222 1.0000)" font-family='"Liberation Serif", serif' font-size="67.0" font-style="italic" fill="#000" stroke="#000" stroke-width="0.35">x</text>
<text transform="translate(1266.61 1033.80) scale(1.0231 1.0000)" font-family='"Liberation Serif", serif' font-size="45.5" fill="#000" stroke="#000" stroke-width="0.6">1</text>
<text transform="translate(1296.68 1025.42) scale(0.9702 1.1333)" font-family='"Liberation Serif", serif' font-size="67.0" fill="#000" stroke="#000" stroke-width="0.2">(</text>
<text transform="translate(1317.47 1024.13) scale(1.2262 1.0820)" font-family='"Liberation Serif", serif' font-size="67.0" font-style="italic" fill="#000" stroke="#000" stroke-width="0.35">t</text>
<text transform="translate(1344.82 1025.32) scale(0.9692 1.1295)" font-family='"Liberation Serif", serif' font-size="67.0" fill="#000" stroke="#000" stroke-width="0.2">)</text>
<text transform="translate(1394.13 1025.42) scale(0.9874 1.1333)" font-family='"Liberation Serif", serif' font-size="67.0" fill="#000" stroke="#000" stroke-width="0.2">(</text>
<text transform="translate(1416.66 1024.20) scale(1.1101 1.0000)" font-family='"Liberation Serif", serif' font-size="67.0" fill="#000" stroke="#000" stroke-width="0.6">rad</text>
<text transform="translate(1513.64 1025.32) scale(0.9635 1.1295)" font-family='"Liberation Serif", serif' font-size="67.0" fill="#000" stroke="#000" stroke-width="0.2">)</text>
<text transform="translate(922.11 1106.10) scale(1.0976 1.0000)" font-family='"Liberation Serif", serif' font-size="67.0" fill="#000" stroke="#000" stroke-width="0.6">The</text>
<text transform="translate(1056.33 1106.10) scale(1.0880 1.0000)" font-family='"Liberation Serif", serif' font-size="67.0" fill="#000" stroke="#000" stroke-width="0.6">estimated</text>
<text transform="translate(1358.61 1106.10) scale(1.0504 1.0000)" font-family='"Liberation Serif", serif' font-size="67.0" fill="#000" stroke="#000" stroke-width="0.6">angle</text>
<text transform="translate(1533.23 1106.10) scale(1.1222 1.0000)" font-family='"Liberation Serif", serif' font-size="67.0" font-style="italic" fill="#000" stroke="#000" stroke-width="0.35">x</text>
<text transform="translate(1542.70 1108.79) scale(0.8272 1.0284)" font-family='"Liberation Serif", serif' font-size="67.0" fill="#000" stroke="#000" stroke-width="0.35">ˆ</text>
<text transform="translate(1568.01 1115.70) scale(1.0231 1.0000)" font-family='"Liberation Serif", serif' font-size="45.5" fill="#000" stroke="#000" stroke-width="0.6">1</text>
<text transform="translate(1598.08 1107.32) scale(0.9702 1.1333)" font-family='"Liberation Serif", serif' font-size="67.0" fill="#000" stroke="#000" stroke-width="0.2">(</text>
<text transform="translate(1618.87 1106.03) scale(1.2262 1.0820)" font-family='"Liberation Serif", serif' font-size="67.0" font-style="italic" fill="#000" stroke="#000" stroke-width="0.35">t</text>
<text transform="translate(1646.22 1107.22) scale(0.9692 1.1295)" font-family='"Liberation Serif", serif' font-size="67.0" fill="#000" stroke="#000" stroke-width="0.2">)</text>
<text transform="translate(1695.53 1107.32) scale(0.9874 1.1333)" font-family='"Liberation Serif", serif' font-size="67.0" fill="#000" stroke="#000" stroke-width="0.2">(</text>
<text transform="translate(1718.06 1106.10) scale(1.1101 1.0000)" font-family='"Liberation Serif", serif' font-size="67.0" fill="#000" stroke="#000" stroke-width="0.6">rad</text>
<text transform="translate(1815.04 1107.22) scale(0.9635 1.1295)" font-family='"Liberation Serif", serif' font-size="67.0" fill="#000" stroke="#000" stroke-width="0.2">)</text>
<text transform="translate(922.11 1188.40) scale(1.0976 1.0000)" font-family='"Liberation Serif", serif' font-size="67.0" fill="#000" stroke="#000" stroke-width="0.6">The</text>
<text transform="translate(1057.65 1188.40) scale(1.0759 1.0000)" font-family='"Liberation Serif", serif' font-size="67.0" fill="#000" stroke="#000" stroke-width="0.6">angular</text>
<text transform="translate(1297.80 1188.40) scale(1.0088 1.0000)" font-family='"Liberation Serif", serif' font-size="67.0" fill="#000" stroke="#000" stroke-width="0.6">velocity</text>
<text transform="translate(1542.73 1188.40) scale(1.1222 1.0000)" font-family='"Liberation Serif", serif' font-size="67.0" font-style="italic" fill="#000" stroke="#000" stroke-width="0.35">x</text>
<text transform="translate(1579.59 1198.00) scale(1.0035 1.0000)" font-family='"Liberation Serif", serif' font-size="45.5" fill="#000" stroke="#000" stroke-width="0.6">2</text>
<text transform="translate(1607.58 1189.62) scale(0.9702 1.1333)" font-family='"Liberation Serif", serif' font-size="67.0" fill="#000" stroke="#000" stroke-width="0.2">(</text>
<text transform="translate(1628.37 1188.33) scale(1.2262 1.0820)" font-family='"Liberation Serif", serif' font-size="67.0" font-style="italic" fill="#000" stroke="#000" stroke-width="0.35">t</text>
<text transform="translate(1655.72 1189.52) scale(0.9692 1.1295)" font-family='"Liberation Serif", serif' font-size="67.0" fill="#000" stroke="#000" stroke-width="0.2">)</text>
<text transform="translate(1705.03 1189.62) scale(0.9874 1.1333)" font-family='"Liberation Serif", serif' font-size="67.0" fill="#000" stroke="#000" stroke-width="0.2">(</text>
<text transform="translate(1727.56 1188.40) scale(1.1101 1.0000)" font-family='"Liberation Serif", serif' font-size="67.0" fill="#000" stroke="#000" stroke-width="0.6">rad</text>
<text transform="translate(1825.39 1203.43) scale(1.5305 1.5165)" font-family='"Liberation Serif", serif' font-size="67.0" fill="#000" stroke="#000" stroke-width="0.2">/</text>
<text transform="translate(1854.11 1188.40) scale(1.1194 1.0000)" font-family='"Liberation Serif", serif' font-size="67.0" fill="#000" stroke="#000" stroke-width="0.6">s</text>
<text transform="translate(1882.70 1189.52) scale(0.9808 1.1295)" font-family='"Liberation Serif", serif' font-size="67.0" fill="#000" stroke="#000" stroke-width="0.2">)</text>
<text transform="translate(922.11 1270.30) scale(1.0976 1.0000)" font-family='"Liberation Serif", serif' font-size="67.0" fill="#000" stroke="#000" stroke-width="0.6">The</text>
<text transform="translate(1056.33 1270.30) scale(1.0880 1.0000)" font-family='"Liberation Serif", serif' font-size="67.0" fill="#000" stroke="#000" stroke-width="0.6">estimated</text>
<text transform="translate(1358.86 1270.30) scale(1.0739 1.0000)" font-family='"Liberation Serif", serif' font-size="67.0" fill="#000" stroke="#000" stroke-width="0.6">angular</text>
<text transform="translate(1598.90 1270.30) scale(1.0134 1.0000)" font-family='"Liberation Serif", serif' font-size="67.0" fill="#000" stroke="#000" stroke-width="0.6">velocity</text>
<text transform="translate(1844.43 1270.30) scale(1.1222 1.0000)" font-family='"Liberation Serif", serif' font-size="67.0" font-style="italic" fill="#000" stroke="#000" stroke-width="0.35">x</text>
<text transform="translate(1853.90 1272.99) scale(0.8272 1.0284)" font-family='"Liberation Serif", serif' font-size="67.0" fill="#000" stroke="#000" stroke-width="0.35">ˆ</text>
<text transform="translate(1881.29 1279.90) scale(1.0035 1.0000)" font-family='"Liberation Serif", serif' font-size="45.5" fill="#000" stroke="#000" stroke-width="0.6">2</text>
<text transform="translate(1909.28 1271.52) scale(0.9702 1.1333)" font-family='"Liberation Serif", serif' font-size="67.0" fill="#000" stroke="#000" stroke-width="0.2">(</text>
<text transform="translate(1930.07 1270.23) scale(1.2262 1.0820)" font-family='"Liberation Serif", serif' font-size="67.0" font-style="italic" fill="#000" stroke="#000" stroke-width="0.35">t</text>
<text transform="translate(1957.42 1271.42) scale(0.9692 1.1295)" font-family='"Liberation Serif", serif' font-size="67.0" fill="#000" stroke="#000" stroke-width="0.2">)</text>
<text transform="translate(2006.73 1271.52) scale(0.9874 1.1333)" font-family='"Liberation Serif", serif' font-size="67.0" fill="#000" stroke="#000" stroke-width="0.2">(</text>
<text transform="translate(2029.26 1270.30) scale(1.1101 1.0000)" font-family='"Liberation Serif", serif' font-size="67.0" fill="#000" stroke="#000" stroke-width="0.6">rad</text>
<text transform="translate(2127.09 1285.33) scale(1.5305 1.5165)" font-family='"Liberation Serif", serif' font-size="67.0" fill="#000" stroke="#000" stroke-width="0.2">/</text>
<text transform="translate(2155.81 1270.30) scale(1.1194 1.0000)" font-family='"Liberation Serif", serif' font-size="67.0" fill="#000" stroke="#000" stroke-width="0.6">s</text>
<text transform="translate(2184.40 1271.42) scale(0.9808 1.1295)" font-family='"Liberation Serif", serif' font-size="67.0" fill="#000" stroke="#000" stroke-width="0.2">)</text>
<text transform="translate(1133.38 1546.10) scale(1.1076 1.0000)" font-family='"Liberation Serif", serif' font-size="73.0" fill="#262626" stroke="#262626" stroke-width="0.6">Time</text>
<text transform="translate(1327.68 1546.03) scale(1.1152 1.0705)" font-family='"Liberation Serif", serif' font-size="73.0" font-style="italic" fill="#262626" stroke="#262626" stroke-width="0.35">t</text>
<text transform="translate(1352.93 1562.58) scale(1.3610 1.4425)" font-family='"Liberation Serif", serif' font-size="73.0" fill="#262626" stroke="#262626" stroke-width="0.2">/</text>
<text transform="translate(1384.69 1546.10) scale(1.0670 1.0000)" font-family='"Liberation Serif", serif' font-size="73.0" fill="#262626" stroke="#262626" stroke-width="0.6">s</text>
<text transform="translate(182.01 78.80) scale(0.9995 1.0000)" font-family='"Liberation Sans", sans-serif' font-size="72.6" fill="#262626" stroke="#262626" stroke-width="0.3">0.5</text>
<text transform="translate(242.76 513.80) scale(0.9786 1.0000)" font-family='"Liberation Sans", sans-serif' font-size="72.6" fill="#262626" stroke="#262626" stroke-width="0.3">0</text>
<text transform="translate(124.76 960.48) scale(1.1860 1.3140)" font-family='"Liberation Sans", sans-serif' font-size="72.6" fill="#262626">−</text>
<text transform="translate(180.41 948.80) scale(0.9995 1.0000)" font-family='"Liberation Sans", sans-serif' font-size="72.6" fill="#262626" stroke="#262626" stroke-width="0.3">0.5</text>
<text transform="translate(190.76 1395.48) scale(1.1860 1.3140)" font-family='"Liberation Sans", sans-serif' font-size="72.6" fill="#262626">−</text>
<text transform="translate(249.53 1383.80) scale(0.8935 1.0000)" font-family='"Liberation Sans", sans-serif' font-size="72.6" fill="#262626" stroke="#262626" stroke-width="0.3">1</text>
</g>
<g transform="translate(74 1317) rotate(-90)">
<text transform="translate(-1.25 0.00) scale(1.1284 1.0000)" font-family='"Liberation Serif", serif' font-size="72.5" fill="#262626" stroke="#262626" stroke-width="0.6">The</text>
<text transform="translate(148.24 0.00) scale(1.1696 1.0000)" font-family='"Liberation Serif", serif' font-size="72.5" fill="#262626" stroke="#262626" stroke-width="0.6">state</text>
<text transform="translate(333.32 0.00) scale(1.0461 1.0000)" font-family='"Liberation Serif", serif' font-size="72.5" font-style="italic" fill="#262626" stroke="#262626" stroke-width="0.35">x</text>
<text transform="translate(375.42 0.44) scale(0.9701 1.1161)" font-family='"Liberation Serif", serif' font-size="72.5" fill="#262626" stroke="#262626" stroke-width="0.2">(</text>
<text transform="translate(397.97 -0.09) scale(1.1530 1.1128)" font-family='"Liberation Serif", serif' font-size="72.5" font-style="italic" fill="#262626" stroke="#262626" stroke-width="0.35">t</text>
<text transform="translate(427.28 0.43) scale(0.9709 1.1175)" font-family='"Liberation Serif", serif' font-size="72.5" fill="#262626" stroke="#262626" stroke-width="0.2">)</text>
<text transform="translate(478.78 0.00) scale(1.1202 1.0000)" font-family='"Liberation Serif", serif' font-size="72.5" fill="#262626" stroke="#262626" stroke-width="0.6">and</text>
<text transform="translate(622.27 0.00) scale(1.1268 1.0000)" font-family='"Liberation Serif", serif' font-size="72.5" fill="#262626" stroke="#262626" stroke-width="0.6">the</text>
<text transform="translate(747.47 0.00) scale(1.1023 1.0000)" font-family='"Liberation Serif", serif' font-size="72.5" fill="#262626" stroke="#262626" stroke-width="0.6">estimation</text>
<text transform="translate(1109.49 0.00) scale(1.1228 1.0000)" font-family='"Liberation Serif", serif' font-size="72.5" font-style="italic" fill="#262626" stroke="#262626" stroke-width="0.35">x</text>
<text transform="translate(1120.07 0.15) scale(0.8262 1.0259)" font-family='"Liberation Serif", serif' font-size="72.5" fill="#262626" stroke="#262626" stroke-width="0.35">ˆ</text>
<text transform="translate(1153.90 0.44) scale(0.9754 1.1161)" font-family='"Liberation Serif", serif' font-size="72.5" fill="#262626" stroke="#262626" stroke-width="0.2">(</text>
<text transform="translate(1175.67 -0.09) scale(1.2176 1.1128)" font-family='"Liberation Serif", serif' font-size="72.5" font-style="italic" fill="#262626" stroke="#262626" stroke-width="0.35">t</text>
<text transform="translate(1202.90 0.43) scale(1.0942 1.1175)" font-family='"Liberation Serif", serif' font-size="72.5" fill="#262626" stroke="#262626" stroke-width="0.2">)</text>
</g>
<g font-family='"Liberation Sans", sans-serif' font-size="72.6" fill="#262626" stroke="#262626" stroke-width="0.3" text-anchor="middle">
<text x="314.5" y="1459.3">0</text>
<text x="697.7" y="1459.3">1</text>
<text x="1080.9" y="1459.3">2</text>
<text x="1464.1" y="1459.3">3</text>
<text x="1847.3" y="1459.3">4</text>
<text x="2230.5" y="1459.3">5</text>
</g>
</svg></body></html>
